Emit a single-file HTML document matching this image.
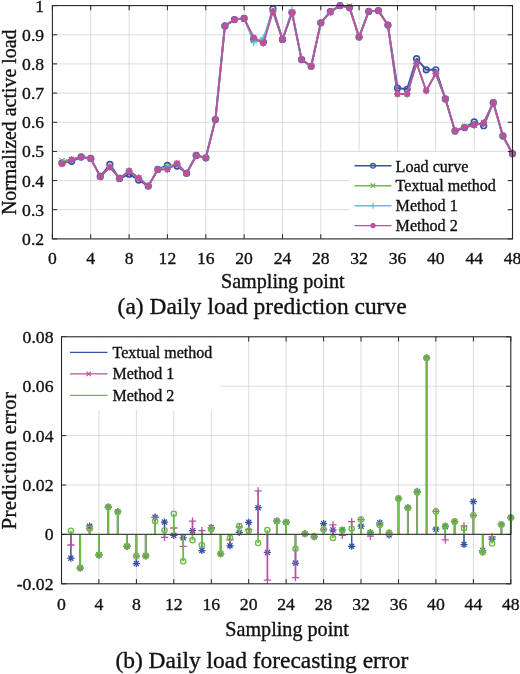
<!DOCTYPE html>
<html lang="en"><head><meta charset="utf-8"><title>Daily load prediction</title>
<style>html,body{margin:0;padding:0;background:#fff}svg{display:block}text{stroke:#111;stroke-width:.35px;paint-order:stroke fill}</style></head>
<body>
<svg width="520" height="674" viewBox="0 0 520 674" font-family="'Liberation Serif', 'Times New Roman', serif" fill="#111">
<rect width="520" height="674" fill="#fff"/>
<line x1="90.7" y1="5.6" x2="90.7" y2="238.9" stroke="#cdcdcd" stroke-width="0.7"/>
<line x1="129.1" y1="5.6" x2="129.1" y2="238.9" stroke="#cdcdcd" stroke-width="0.7"/>
<line x1="167.4" y1="5.6" x2="167.4" y2="238.9" stroke="#cdcdcd" stroke-width="0.7"/>
<line x1="205.8" y1="5.6" x2="205.8" y2="238.9" stroke="#cdcdcd" stroke-width="0.7"/>
<line x1="244.1" y1="5.6" x2="244.1" y2="238.9" stroke="#cdcdcd" stroke-width="0.7"/>
<line x1="282.5" y1="5.6" x2="282.5" y2="238.9" stroke="#cdcdcd" stroke-width="0.7"/>
<line x1="320.8" y1="5.6" x2="320.8" y2="238.9" stroke="#cdcdcd" stroke-width="0.7"/>
<line x1="359.1" y1="5.6" x2="359.1" y2="238.9" stroke="#cdcdcd" stroke-width="0.7"/>
<line x1="397.5" y1="5.6" x2="397.5" y2="238.9" stroke="#cdcdcd" stroke-width="0.7"/>
<line x1="435.8" y1="5.6" x2="435.8" y2="238.9" stroke="#cdcdcd" stroke-width="0.7"/>
<line x1="474.2" y1="5.6" x2="474.2" y2="238.9" stroke="#cdcdcd" stroke-width="0.7"/>
<line x1="52.4" y1="209.7" x2="512.5" y2="209.7" stroke="#cdcdcd" stroke-width="0.7"/>
<line x1="52.4" y1="180.6" x2="512.5" y2="180.6" stroke="#cdcdcd" stroke-width="0.7"/>
<line x1="52.4" y1="151.4" x2="512.5" y2="151.4" stroke="#cdcdcd" stroke-width="0.7"/>
<line x1="52.4" y1="122.3" x2="512.5" y2="122.3" stroke="#cdcdcd" stroke-width="0.7"/>
<line x1="52.4" y1="93.1" x2="512.5" y2="93.1" stroke="#cdcdcd" stroke-width="0.7"/>
<line x1="52.4" y1="63.9" x2="512.5" y2="63.9" stroke="#cdcdcd" stroke-width="0.7"/>
<line x1="52.4" y1="34.8" x2="512.5" y2="34.8" stroke="#cdcdcd" stroke-width="0.7"/>
<polyline points="62.0,163.1 71.6,161.3 81.2,157.0 90.7,158.4 100.3,176.5 109.9,164.5 119.5,178.5 129.1,174.2 138.7,180.0 148.3,186.1 157.8,169.5 167.4,165.4 177.0,166.0 186.6,173.3 196.2,155.5 205.8,157.8 215.4,119.6 224.9,25.9 234.5,19.6 244.1,18.4 253.7,39.1 263.3,42.1 272.9,8.8 282.5,39.4 292.0,12.6 301.6,59.6 311.2,66.3 320.8,22.8 330.4,11.7 340.0,5.6 349.5,7.6 359.1,37.1 368.7,11.4 378.3,10.6 387.9,25.1 397.5,88.1 407.1,89.3 416.6,58.7 426.2,69.8 435.8,69.8 445.4,98.9 455.0,131.0 464.6,127.5 474.2,122.0 483.7,125.7 493.3,102.7 502.9,136.0 512.5,153.7" fill="none" stroke="#3953A4" stroke-width="2.0" stroke-linejoin="round"/>
<circle cx="62.0" cy="163.1" r="2.8" fill="none" stroke="#3953A4" stroke-width="1.7"/>
<circle cx="71.6" cy="161.3" r="2.8" fill="none" stroke="#3953A4" stroke-width="1.7"/>
<circle cx="81.2" cy="157.0" r="2.8" fill="none" stroke="#3953A4" stroke-width="1.7"/>
<circle cx="90.7" cy="158.4" r="2.8" fill="none" stroke="#3953A4" stroke-width="1.7"/>
<circle cx="100.3" cy="176.5" r="2.8" fill="none" stroke="#3953A4" stroke-width="1.7"/>
<circle cx="109.9" cy="164.5" r="2.8" fill="none" stroke="#3953A4" stroke-width="1.7"/>
<circle cx="119.5" cy="178.5" r="2.8" fill="none" stroke="#3953A4" stroke-width="1.7"/>
<circle cx="129.1" cy="174.2" r="2.8" fill="none" stroke="#3953A4" stroke-width="1.7"/>
<circle cx="138.7" cy="180.0" r="2.8" fill="none" stroke="#3953A4" stroke-width="1.7"/>
<circle cx="148.3" cy="186.1" r="2.8" fill="none" stroke="#3953A4" stroke-width="1.7"/>
<circle cx="157.8" cy="169.5" r="2.8" fill="none" stroke="#3953A4" stroke-width="1.7"/>
<circle cx="167.4" cy="165.4" r="2.8" fill="none" stroke="#3953A4" stroke-width="1.7"/>
<circle cx="177.0" cy="166.0" r="2.8" fill="none" stroke="#3953A4" stroke-width="1.7"/>
<circle cx="186.6" cy="173.3" r="2.8" fill="none" stroke="#3953A4" stroke-width="1.7"/>
<circle cx="196.2" cy="155.5" r="2.8" fill="none" stroke="#3953A4" stroke-width="1.7"/>
<circle cx="205.8" cy="157.8" r="2.8" fill="none" stroke="#3953A4" stroke-width="1.7"/>
<circle cx="215.4" cy="119.6" r="2.8" fill="none" stroke="#3953A4" stroke-width="1.7"/>
<circle cx="224.9" cy="25.9" r="2.8" fill="none" stroke="#3953A4" stroke-width="1.7"/>
<circle cx="234.5" cy="19.6" r="2.8" fill="none" stroke="#3953A4" stroke-width="1.7"/>
<circle cx="244.1" cy="18.4" r="2.8" fill="none" stroke="#3953A4" stroke-width="1.7"/>
<circle cx="253.7" cy="39.1" r="2.8" fill="none" stroke="#3953A4" stroke-width="1.7"/>
<circle cx="263.3" cy="42.1" r="2.8" fill="none" stroke="#3953A4" stroke-width="1.7"/>
<circle cx="272.9" cy="8.8" r="2.8" fill="none" stroke="#3953A4" stroke-width="1.7"/>
<circle cx="282.5" cy="39.4" r="2.8" fill="none" stroke="#3953A4" stroke-width="1.7"/>
<circle cx="292.0" cy="12.6" r="2.8" fill="none" stroke="#3953A4" stroke-width="1.7"/>
<circle cx="301.6" cy="59.6" r="2.8" fill="none" stroke="#3953A4" stroke-width="1.7"/>
<circle cx="311.2" cy="66.3" r="2.8" fill="none" stroke="#3953A4" stroke-width="1.7"/>
<circle cx="320.8" cy="22.8" r="2.8" fill="none" stroke="#3953A4" stroke-width="1.7"/>
<circle cx="330.4" cy="11.7" r="2.8" fill="none" stroke="#3953A4" stroke-width="1.7"/>
<circle cx="340.0" cy="5.6" r="2.8" fill="none" stroke="#3953A4" stroke-width="1.7"/>
<circle cx="349.5" cy="7.6" r="2.8" fill="none" stroke="#3953A4" stroke-width="1.7"/>
<circle cx="359.1" cy="37.1" r="2.8" fill="none" stroke="#3953A4" stroke-width="1.7"/>
<circle cx="368.7" cy="11.4" r="2.8" fill="none" stroke="#3953A4" stroke-width="1.7"/>
<circle cx="378.3" cy="10.6" r="2.8" fill="none" stroke="#3953A4" stroke-width="1.7"/>
<circle cx="387.9" cy="25.1" r="2.8" fill="none" stroke="#3953A4" stroke-width="1.7"/>
<circle cx="397.5" cy="88.1" r="2.8" fill="none" stroke="#3953A4" stroke-width="1.7"/>
<circle cx="407.1" cy="89.3" r="2.8" fill="none" stroke="#3953A4" stroke-width="1.7"/>
<circle cx="416.6" cy="58.7" r="2.8" fill="none" stroke="#3953A4" stroke-width="1.7"/>
<circle cx="426.2" cy="69.8" r="2.8" fill="none" stroke="#3953A4" stroke-width="1.7"/>
<circle cx="435.8" cy="69.8" r="2.8" fill="none" stroke="#3953A4" stroke-width="1.7"/>
<circle cx="445.4" cy="98.9" r="2.8" fill="none" stroke="#3953A4" stroke-width="1.7"/>
<circle cx="455.0" cy="131.0" r="2.8" fill="none" stroke="#3953A4" stroke-width="1.7"/>
<circle cx="464.6" cy="127.5" r="2.8" fill="none" stroke="#3953A4" stroke-width="1.7"/>
<circle cx="474.2" cy="122.0" r="2.8" fill="none" stroke="#3953A4" stroke-width="1.7"/>
<circle cx="483.7" cy="125.7" r="2.8" fill="none" stroke="#3953A4" stroke-width="1.7"/>
<circle cx="493.3" cy="102.7" r="2.8" fill="none" stroke="#3953A4" stroke-width="1.7"/>
<circle cx="502.9" cy="136.0" r="2.8" fill="none" stroke="#3953A4" stroke-width="1.7"/>
<circle cx="512.5" cy="153.7" r="2.8" fill="none" stroke="#3953A4" stroke-width="1.7"/>
<polyline points="62.0,160.7 71.6,159.6 81.2,157.0 90.7,158.4 100.3,176.5 109.9,167.2 119.5,178.5 129.1,171.0 138.7,178.0 148.3,186.1 157.8,169.5 167.4,166.9 177.0,163.4 186.6,173.3 196.2,155.5 205.8,157.8 215.4,119.6 224.9,25.9 234.5,19.6 244.1,18.4 253.7,38.8 263.3,41.2 272.9,11.4 282.5,39.4 292.0,12.6 301.6,59.6 311.2,66.3 320.8,22.8 330.4,11.7 340.0,5.6 349.5,6.2 359.1,37.1 368.7,11.4 378.3,10.6 387.9,25.1 397.5,94.0 407.1,94.0 416.6,63.3 426.2,90.8 435.8,73.5 445.4,98.9 455.0,131.0 464.6,126.3 474.2,125.2 483.7,122.8 493.3,102.7 502.9,136.0 512.5,153.7" fill="none" stroke="#6ABD45" stroke-width="1.6" stroke-linejoin="round"/>
<path d="M59.4 158.1L64.6 163.3M59.4 163.3L64.6 158.1" stroke="#6ABD45" stroke-width="1.3" fill="none"/>
<path d="M69.0 157.0L74.2 162.2M69.0 162.2L74.2 157.0" stroke="#6ABD45" stroke-width="1.3" fill="none"/>
<path d="M78.6 154.4L83.8 159.6M78.6 159.6L83.8 154.4" stroke="#6ABD45" stroke-width="1.3" fill="none"/>
<path d="M88.1 155.8L93.3 161.0M88.1 161.0L93.3 155.8" stroke="#6ABD45" stroke-width="1.3" fill="none"/>
<path d="M97.7 173.9L102.9 179.1M97.7 179.1L102.9 173.9" stroke="#6ABD45" stroke-width="1.3" fill="none"/>
<path d="M107.3 164.6L112.5 169.8M107.3 169.8L112.5 164.6" stroke="#6ABD45" stroke-width="1.3" fill="none"/>
<path d="M116.9 175.9L122.1 181.1M116.9 181.1L122.1 175.9" stroke="#6ABD45" stroke-width="1.3" fill="none"/>
<path d="M126.5 168.4L131.7 173.6M126.5 173.6L131.7 168.4" stroke="#6ABD45" stroke-width="1.3" fill="none"/>
<path d="M136.1 175.4L141.3 180.6M136.1 180.6L141.3 175.4" stroke="#6ABD45" stroke-width="1.3" fill="none"/>
<path d="M145.7 183.5L150.9 188.7M145.7 188.7L150.9 183.5" stroke="#6ABD45" stroke-width="1.3" fill="none"/>
<path d="M155.2 166.9L160.4 172.1M155.2 172.1L160.4 166.9" stroke="#6ABD45" stroke-width="1.3" fill="none"/>
<path d="M164.8 164.3L170.0 169.5M164.8 169.5L170.0 164.3" stroke="#6ABD45" stroke-width="1.3" fill="none"/>
<path d="M174.4 160.8L179.6 166.0M174.4 166.0L179.6 160.8" stroke="#6ABD45" stroke-width="1.3" fill="none"/>
<path d="M184.0 170.7L189.2 175.9M184.0 175.9L189.2 170.7" stroke="#6ABD45" stroke-width="1.3" fill="none"/>
<path d="M193.6 152.9L198.8 158.1M193.6 158.1L198.8 152.9" stroke="#6ABD45" stroke-width="1.3" fill="none"/>
<path d="M203.2 155.2L208.4 160.4M203.2 160.4L208.4 155.2" stroke="#6ABD45" stroke-width="1.3" fill="none"/>
<path d="M212.8 117.0L218.0 122.2M212.8 122.2L218.0 117.0" stroke="#6ABD45" stroke-width="1.3" fill="none"/>
<path d="M222.3 23.3L227.5 28.5M222.3 28.5L227.5 23.3" stroke="#6ABD45" stroke-width="1.3" fill="none"/>
<path d="M231.9 17.0L237.1 22.2M231.9 22.2L237.1 17.0" stroke="#6ABD45" stroke-width="1.3" fill="none"/>
<path d="M241.5 15.8L246.7 21.0M241.5 21.0L246.7 15.8" stroke="#6ABD45" stroke-width="1.3" fill="none"/>
<path d="M251.1 36.2L256.3 41.4M251.1 41.4L256.3 36.2" stroke="#6ABD45" stroke-width="1.3" fill="none"/>
<path d="M260.7 38.6L265.9 43.8M260.7 43.8L265.9 38.6" stroke="#6ABD45" stroke-width="1.3" fill="none"/>
<path d="M270.3 8.8L275.5 14.0M270.3 14.0L275.5 8.8" stroke="#6ABD45" stroke-width="1.3" fill="none"/>
<path d="M279.9 36.8L285.1 42.0M279.9 42.0L285.1 36.8" stroke="#6ABD45" stroke-width="1.3" fill="none"/>
<path d="M289.4 10.0L294.6 15.2M289.4 15.2L294.6 10.0" stroke="#6ABD45" stroke-width="1.3" fill="none"/>
<path d="M299.0 57.0L304.2 62.2M299.0 62.2L304.2 57.0" stroke="#6ABD45" stroke-width="1.3" fill="none"/>
<path d="M308.6 63.7L313.8 68.9M308.6 68.9L313.8 63.7" stroke="#6ABD45" stroke-width="1.3" fill="none"/>
<path d="M318.2 20.2L323.4 25.4M318.2 25.4L323.4 20.2" stroke="#6ABD45" stroke-width="1.3" fill="none"/>
<path d="M327.8 9.1L333.0 14.3M327.8 14.3L333.0 9.1" stroke="#6ABD45" stroke-width="1.3" fill="none"/>
<path d="M337.4 3.0L342.6 8.2M337.4 8.2L342.6 3.0" stroke="#6ABD45" stroke-width="1.3" fill="none"/>
<path d="M346.9 3.6L352.1 8.8M346.9 8.8L352.1 3.6" stroke="#6ABD45" stroke-width="1.3" fill="none"/>
<path d="M356.5 34.5L361.7 39.7M356.5 39.7L361.7 34.5" stroke="#6ABD45" stroke-width="1.3" fill="none"/>
<path d="M366.1 8.8L371.3 14.0M366.1 14.0L371.3 8.8" stroke="#6ABD45" stroke-width="1.3" fill="none"/>
<path d="M375.7 8.0L380.9 13.2M375.7 13.2L380.9 8.0" stroke="#6ABD45" stroke-width="1.3" fill="none"/>
<path d="M385.3 22.5L390.5 27.7M385.3 27.7L390.5 22.5" stroke="#6ABD45" stroke-width="1.3" fill="none"/>
<path d="M394.9 91.4L400.1 96.6M394.9 96.6L400.1 91.4" stroke="#6ABD45" stroke-width="1.3" fill="none"/>
<path d="M404.5 91.4L409.7 96.6M404.5 96.6L409.7 91.4" stroke="#6ABD45" stroke-width="1.3" fill="none"/>
<path d="M414.0 60.7L419.2 65.9M414.0 65.9L419.2 60.7" stroke="#6ABD45" stroke-width="1.3" fill="none"/>
<path d="M423.6 88.2L428.8 93.4M423.6 93.4L428.8 88.2" stroke="#6ABD45" stroke-width="1.3" fill="none"/>
<path d="M433.2 70.9L438.4 76.1M433.2 76.1L438.4 70.9" stroke="#6ABD45" stroke-width="1.3" fill="none"/>
<path d="M442.8 96.3L448.0 101.5M442.8 101.5L448.0 96.3" stroke="#6ABD45" stroke-width="1.3" fill="none"/>
<path d="M452.4 128.4L457.6 133.6M452.4 133.6L457.6 128.4" stroke="#6ABD45" stroke-width="1.3" fill="none"/>
<path d="M462.0 123.7L467.2 128.9M462.0 128.9L467.2 123.7" stroke="#6ABD45" stroke-width="1.3" fill="none"/>
<path d="M471.6 122.6L476.8 127.8M471.6 127.8L476.8 122.6" stroke="#6ABD45" stroke-width="1.3" fill="none"/>
<path d="M481.1 120.2L486.3 125.4M481.1 125.4L486.3 120.2" stroke="#6ABD45" stroke-width="1.3" fill="none"/>
<path d="M490.7 100.1L495.9 105.3M490.7 105.3L495.9 100.1" stroke="#6ABD45" stroke-width="1.3" fill="none"/>
<path d="M500.3 133.4L505.5 138.6M500.3 138.6L505.5 133.4" stroke="#6ABD45" stroke-width="1.3" fill="none"/>
<path d="M509.9 151.1L515.1 156.3M509.9 156.3L515.1 151.1" stroke="#6ABD45" stroke-width="1.3" fill="none"/>
<polyline points="62.0,163.7 71.6,159.6 81.2,157.0 90.7,158.4 100.3,176.5 109.9,167.2 119.5,178.5 129.1,171.0 138.7,178.0 148.3,186.1 157.8,169.5 167.4,167.5 177.0,164.5 186.6,173.3 196.2,155.5 205.8,157.8 215.4,119.6 224.9,25.9 234.5,19.6 244.1,18.4 253.7,42.6 263.3,37.7 272.9,11.4 282.5,39.4 292.0,10.0 301.6,59.6 311.2,66.3 320.8,22.8 330.4,12.9 340.0,5.6 349.5,7.6 359.1,37.1 368.7,11.4 378.3,10.6 387.9,25.1 397.5,94.0 407.1,94.0 416.6,63.3 426.2,90.8 435.8,73.5 445.4,98.9 455.0,131.0 464.6,127.5 474.2,125.2 483.7,122.8 493.3,102.7 502.9,136.0 512.5,153.7" fill="none" stroke="#5BC5D5" stroke-width="1.6" stroke-linejoin="round"/>
<path d="M58.6 163.7L65.4 163.7M62.0 160.3L62.0 167.1" stroke="#5BC5D5" stroke-width="1.3" fill="none"/>
<path d="M68.2 159.6L75.0 159.6M71.6 156.2L71.6 163.0" stroke="#5BC5D5" stroke-width="1.3" fill="none"/>
<path d="M77.8 157.0L84.6 157.0M81.2 153.6L81.2 160.4" stroke="#5BC5D5" stroke-width="1.3" fill="none"/>
<path d="M87.3 158.4L94.1 158.4M90.7 155.0L90.7 161.8" stroke="#5BC5D5" stroke-width="1.3" fill="none"/>
<path d="M96.9 176.5L103.7 176.5M100.3 173.1L100.3 179.9" stroke="#5BC5D5" stroke-width="1.3" fill="none"/>
<path d="M106.5 167.2L113.3 167.2M109.9 163.8L109.9 170.6" stroke="#5BC5D5" stroke-width="1.3" fill="none"/>
<path d="M116.1 178.5L122.9 178.5M119.5 175.1L119.5 181.9" stroke="#5BC5D5" stroke-width="1.3" fill="none"/>
<path d="M125.7 171.0L132.5 171.0M129.1 167.6L129.1 174.4" stroke="#5BC5D5" stroke-width="1.3" fill="none"/>
<path d="M135.3 178.0L142.1 178.0M138.7 174.6L138.7 181.4" stroke="#5BC5D5" stroke-width="1.3" fill="none"/>
<path d="M144.9 186.1L151.7 186.1M148.3 182.7L148.3 189.5" stroke="#5BC5D5" stroke-width="1.3" fill="none"/>
<path d="M154.4 169.5L161.2 169.5M157.8 166.1L157.8 172.9" stroke="#5BC5D5" stroke-width="1.3" fill="none"/>
<path d="M164.0 167.5L170.8 167.5M167.4 164.1L167.4 170.9" stroke="#5BC5D5" stroke-width="1.3" fill="none"/>
<path d="M173.6 164.5L180.4 164.5M177.0 161.1L177.0 167.9" stroke="#5BC5D5" stroke-width="1.3" fill="none"/>
<path d="M183.2 173.3L190.0 173.3M186.6 169.9L186.6 176.7" stroke="#5BC5D5" stroke-width="1.3" fill="none"/>
<path d="M192.8 155.5L199.6 155.5M196.2 152.1L196.2 158.9" stroke="#5BC5D5" stroke-width="1.3" fill="none"/>
<path d="M202.4 157.8L209.2 157.8M205.8 154.4L205.8 161.2" stroke="#5BC5D5" stroke-width="1.3" fill="none"/>
<path d="M212.0 119.6L218.8 119.6M215.4 116.2L215.4 123.0" stroke="#5BC5D5" stroke-width="1.3" fill="none"/>
<path d="M221.5 25.9L228.3 25.9M224.9 22.5L224.9 29.3" stroke="#5BC5D5" stroke-width="1.3" fill="none"/>
<path d="M231.1 19.6L237.9 19.6M234.5 16.2L234.5 23.0" stroke="#5BC5D5" stroke-width="1.3" fill="none"/>
<path d="M240.7 18.4L247.5 18.4M244.1 15.0L244.1 21.8" stroke="#5BC5D5" stroke-width="1.3" fill="none"/>
<path d="M250.3 42.6L257.1 42.6M253.7 39.2L253.7 46.0" stroke="#5BC5D5" stroke-width="1.3" fill="none"/>
<path d="M259.9 37.7L266.7 37.7M263.3 34.3L263.3 41.1" stroke="#5BC5D5" stroke-width="1.3" fill="none"/>
<path d="M269.5 11.4L276.3 11.4M272.9 8.0L272.9 14.8" stroke="#5BC5D5" stroke-width="1.3" fill="none"/>
<path d="M279.1 39.4L285.9 39.4M282.5 36.0L282.5 42.8" stroke="#5BC5D5" stroke-width="1.3" fill="none"/>
<path d="M288.6 10.0L295.4 10.0M292.0 6.6L292.0 13.4" stroke="#5BC5D5" stroke-width="1.3" fill="none"/>
<path d="M298.2 59.6L305.0 59.6M301.6 56.2L301.6 63.0" stroke="#5BC5D5" stroke-width="1.3" fill="none"/>
<path d="M307.8 66.3L314.6 66.3M311.2 62.9L311.2 69.7" stroke="#5BC5D5" stroke-width="1.3" fill="none"/>
<path d="M317.4 22.8L324.2 22.8M320.8 19.4L320.8 26.2" stroke="#5BC5D5" stroke-width="1.3" fill="none"/>
<path d="M327.0 12.9L333.8 12.9M330.4 9.5L330.4 16.3" stroke="#5BC5D5" stroke-width="1.3" fill="none"/>
<path d="M336.6 5.6L343.4 5.6M340.0 2.2L340.0 9.0" stroke="#5BC5D5" stroke-width="1.3" fill="none"/>
<path d="M346.1 7.6L352.9 7.6M349.5 4.2L349.5 11.0" stroke="#5BC5D5" stroke-width="1.3" fill="none"/>
<path d="M355.7 37.1L362.5 37.1M359.1 33.7L359.1 40.5" stroke="#5BC5D5" stroke-width="1.3" fill="none"/>
<path d="M365.3 11.4L372.1 11.4M368.7 8.0L368.7 14.8" stroke="#5BC5D5" stroke-width="1.3" fill="none"/>
<path d="M374.9 10.6L381.7 10.6M378.3 7.2L378.3 14.0" stroke="#5BC5D5" stroke-width="1.3" fill="none"/>
<path d="M384.5 25.1L391.3 25.1M387.9 21.7L387.9 28.5" stroke="#5BC5D5" stroke-width="1.3" fill="none"/>
<path d="M394.1 94.0L400.9 94.0M397.5 90.6L397.5 97.4" stroke="#5BC5D5" stroke-width="1.3" fill="none"/>
<path d="M403.7 94.0L410.5 94.0M407.1 90.6L407.1 97.4" stroke="#5BC5D5" stroke-width="1.3" fill="none"/>
<path d="M413.2 63.3L420.0 63.3M416.6 59.9L416.6 66.7" stroke="#5BC5D5" stroke-width="1.3" fill="none"/>
<path d="M422.8 90.8L429.6 90.8M426.2 87.4L426.2 94.2" stroke="#5BC5D5" stroke-width="1.3" fill="none"/>
<path d="M432.4 73.5L439.2 73.5M435.8 70.1L435.8 76.9" stroke="#5BC5D5" stroke-width="1.3" fill="none"/>
<path d="M442.0 98.9L448.8 98.9M445.4 95.5L445.4 102.3" stroke="#5BC5D5" stroke-width="1.3" fill="none"/>
<path d="M451.6 131.0L458.4 131.0M455.0 127.6L455.0 134.4" stroke="#5BC5D5" stroke-width="1.3" fill="none"/>
<path d="M461.2 127.5L468.0 127.5M464.6 124.1L464.6 130.9" stroke="#5BC5D5" stroke-width="1.3" fill="none"/>
<path d="M470.8 125.2L477.6 125.2M474.2 121.8L474.2 128.6" stroke="#5BC5D5" stroke-width="1.3" fill="none"/>
<path d="M480.3 122.8L487.1 122.8M483.7 119.4L483.7 126.2" stroke="#5BC5D5" stroke-width="1.3" fill="none"/>
<path d="M489.9 102.7L496.7 102.7M493.3 99.3L493.3 106.1" stroke="#5BC5D5" stroke-width="1.3" fill="none"/>
<path d="M499.5 136.0L506.3 136.0M502.9 132.6L502.9 139.4" stroke="#5BC5D5" stroke-width="1.3" fill="none"/>
<path d="M509.1 153.7L515.9 153.7M512.5 150.3L512.5 157.1" stroke="#5BC5D5" stroke-width="1.3" fill="none"/>
<polyline points="62.0,163.7 71.6,159.6 81.2,157.0 90.7,158.4 100.3,176.5 109.9,167.2 119.5,178.5 129.1,171.0 138.7,178.0 148.3,186.1 157.8,169.5 167.4,169.5 177.0,163.4 186.6,173.3 196.2,155.5 205.8,157.8 215.4,119.6 224.9,25.9 234.5,19.6 244.1,18.4 253.7,37.7 263.3,43.2 272.9,11.4 282.5,39.4 292.0,12.6 301.6,59.6 311.2,66.3 320.8,22.8 330.4,11.7 340.0,5.6 349.5,7.6 359.1,37.1 368.7,11.4 378.3,10.6 387.9,25.1 397.5,94.0 407.1,94.0 416.6,63.3 426.2,90.8 435.8,73.5 445.4,98.9 455.0,131.0 464.6,127.5 474.2,125.2 483.7,122.8 493.3,102.7 502.9,136.0 512.5,153.7" fill="none" stroke="#B9529F" stroke-width="1.9" stroke-linejoin="round"/>
<circle cx="62.0" cy="163.7" r="2.5" fill="#B9529F" stroke="#B9529F" stroke-width="1.0"/>
<path d="M58.5 163.7L65.5 163.7M62.0 160.2L62.0 167.2M59.5 161.2L64.5 166.1M59.5 166.1L64.5 161.2" stroke="#B9529F" stroke-width="1.1" fill="none"/>
<circle cx="71.6" cy="159.6" r="2.5" fill="#B9529F" stroke="#B9529F" stroke-width="1.0"/>
<path d="M68.1 159.6L75.1 159.6M71.6 156.1L71.6 163.1M69.1 157.1L74.0 162.1M69.1 162.1L74.0 157.1" stroke="#B9529F" stroke-width="1.1" fill="none"/>
<circle cx="81.2" cy="157.0" r="2.5" fill="#B9529F" stroke="#B9529F" stroke-width="1.0"/>
<path d="M77.7 157.0L84.7 157.0M81.2 153.5L81.2 160.5M78.7 154.5L83.6 159.4M78.7 159.4L83.6 154.5" stroke="#B9529F" stroke-width="1.1" fill="none"/>
<circle cx="90.7" cy="158.4" r="2.5" fill="#B9529F" stroke="#B9529F" stroke-width="1.0"/>
<path d="M87.2 158.4L94.2 158.4M90.7 154.9L90.7 161.9M88.3 155.9L93.2 160.9M88.3 160.9L93.2 155.9" stroke="#B9529F" stroke-width="1.1" fill="none"/>
<circle cx="100.3" cy="176.5" r="2.5" fill="#B9529F" stroke="#B9529F" stroke-width="1.0"/>
<path d="M96.8 176.5L103.8 176.5M100.3 173.0L100.3 180.0M97.9 174.0L102.8 179.0M97.9 179.0L102.8 174.0" stroke="#B9529F" stroke-width="1.1" fill="none"/>
<circle cx="109.9" cy="167.2" r="2.5" fill="#B9529F" stroke="#B9529F" stroke-width="1.0"/>
<path d="M106.4 167.2L113.4 167.2M109.9 163.7L109.9 170.7M107.4 164.7L112.4 169.6M107.4 169.6L112.4 164.7" stroke="#B9529F" stroke-width="1.1" fill="none"/>
<circle cx="119.5" cy="178.5" r="2.5" fill="#B9529F" stroke="#B9529F" stroke-width="1.0"/>
<path d="M116.0 178.5L123.0 178.5M119.5 175.0L119.5 182.0M117.0 176.1L122.0 181.0M117.0 181.0L122.0 176.1" stroke="#B9529F" stroke-width="1.1" fill="none"/>
<circle cx="129.1" cy="171.0" r="2.5" fill="#B9529F" stroke="#B9529F" stroke-width="1.0"/>
<path d="M125.6 171.0L132.6 171.0M129.1 167.5L129.1 174.5M126.6 168.5L131.6 173.4M126.6 173.4L131.6 168.5" stroke="#B9529F" stroke-width="1.1" fill="none"/>
<circle cx="138.7" cy="178.0" r="2.5" fill="#B9529F" stroke="#B9529F" stroke-width="1.0"/>
<path d="M135.2 178.0L142.2 178.0M138.7 174.5L138.7 181.5M136.2 175.5L141.1 180.4M136.2 180.4L141.1 175.5" stroke="#B9529F" stroke-width="1.1" fill="none"/>
<circle cx="148.3" cy="186.1" r="2.5" fill="#B9529F" stroke="#B9529F" stroke-width="1.0"/>
<path d="M144.8 186.1L151.8 186.1M148.3 182.6L148.3 189.6M145.8 183.6L150.7 188.6M145.8 188.6L150.7 183.6" stroke="#B9529F" stroke-width="1.1" fill="none"/>
<circle cx="157.8" cy="169.5" r="2.5" fill="#B9529F" stroke="#B9529F" stroke-width="1.0"/>
<path d="M154.3 169.5L161.3 169.5M157.8 166.0L157.8 173.0M155.4 167.0L160.3 172.0M155.4 172.0L160.3 167.0" stroke="#B9529F" stroke-width="1.1" fill="none"/>
<circle cx="167.4" cy="169.5" r="2.5" fill="#B9529F" stroke="#B9529F" stroke-width="1.0"/>
<path d="M163.9 169.5L170.9 169.5M167.4 166.0L167.4 173.0M165.0 167.0L169.9 172.0M165.0 172.0L169.9 167.0" stroke="#B9529F" stroke-width="1.1" fill="none"/>
<circle cx="177.0" cy="163.4" r="2.5" fill="#B9529F" stroke="#B9529F" stroke-width="1.0"/>
<path d="M173.5 163.4L180.5 163.4M177.0 159.9L177.0 166.9M174.5 160.9L179.5 165.8M174.5 165.8L179.5 160.9" stroke="#B9529F" stroke-width="1.1" fill="none"/>
<circle cx="186.6" cy="173.3" r="2.5" fill="#B9529F" stroke="#B9529F" stroke-width="1.0"/>
<path d="M183.1 173.3L190.1 173.3M186.6 169.8L186.6 176.8M184.1 170.8L189.1 175.8M184.1 175.8L189.1 170.8" stroke="#B9529F" stroke-width="1.1" fill="none"/>
<circle cx="196.2" cy="155.5" r="2.5" fill="#B9529F" stroke="#B9529F" stroke-width="1.0"/>
<path d="M192.7 155.5L199.7 155.5M196.2 152.0L196.2 159.0M193.7 153.0L198.7 158.0M193.7 158.0L198.7 153.0" stroke="#B9529F" stroke-width="1.1" fill="none"/>
<circle cx="205.8" cy="157.8" r="2.5" fill="#B9529F" stroke="#B9529F" stroke-width="1.0"/>
<path d="M202.3 157.8L209.3 157.8M205.8 154.3L205.8 161.3M203.3 155.4L208.2 160.3M203.3 160.3L208.2 155.4" stroke="#B9529F" stroke-width="1.1" fill="none"/>
<circle cx="215.4" cy="119.6" r="2.5" fill="#B9529F" stroke="#B9529F" stroke-width="1.0"/>
<path d="M211.9 119.6L218.9 119.6M215.4 116.1L215.4 123.1M212.9 117.2L217.8 122.1M212.9 122.1L217.8 117.2" stroke="#B9529F" stroke-width="1.1" fill="none"/>
<circle cx="224.9" cy="25.9" r="2.5" fill="#B9529F" stroke="#B9529F" stroke-width="1.0"/>
<path d="M221.4 25.9L228.4 25.9M224.9 22.4L224.9 29.4M222.5 23.4L227.4 28.3M222.5 28.3L227.4 23.4" stroke="#B9529F" stroke-width="1.1" fill="none"/>
<circle cx="234.5" cy="19.6" r="2.5" fill="#B9529F" stroke="#B9529F" stroke-width="1.0"/>
<path d="M231.0 19.6L238.0 19.6M234.5 16.1L234.5 23.1M232.0 17.1L237.0 22.1M232.0 22.1L237.0 17.1" stroke="#B9529F" stroke-width="1.1" fill="none"/>
<circle cx="244.1" cy="18.4" r="2.5" fill="#B9529F" stroke="#B9529F" stroke-width="1.0"/>
<path d="M240.6 18.4L247.6 18.4M244.1 14.9L244.1 21.9M241.6 16.0L246.6 20.9M241.6 20.9L246.6 16.0" stroke="#B9529F" stroke-width="1.1" fill="none"/>
<circle cx="253.7" cy="37.7" r="2.5" fill="#B9529F" stroke="#B9529F" stroke-width="1.0"/>
<path d="M250.2 37.7L257.2 37.7M253.7 34.2L253.7 41.2M251.2 35.2L256.2 40.2M251.2 40.2L256.2 35.2" stroke="#B9529F" stroke-width="1.1" fill="none"/>
<circle cx="263.3" cy="43.2" r="2.5" fill="#B9529F" stroke="#B9529F" stroke-width="1.0"/>
<path d="M259.8 43.2L266.8 43.2M263.3 39.7L263.3 46.7M260.8 40.7L265.8 45.7M260.8 45.7L265.8 40.7" stroke="#B9529F" stroke-width="1.1" fill="none"/>
<circle cx="272.9" cy="11.4" r="2.5" fill="#B9529F" stroke="#B9529F" stroke-width="1.0"/>
<path d="M269.4 11.4L276.4 11.4M272.9 7.9L272.9 14.9M270.4 9.0L275.3 13.9M270.4 13.9L275.3 9.0" stroke="#B9529F" stroke-width="1.1" fill="none"/>
<circle cx="282.5" cy="39.4" r="2.5" fill="#B9529F" stroke="#B9529F" stroke-width="1.0"/>
<path d="M279.0 39.4L286.0 39.4M282.5 35.9L282.5 42.9M280.0 37.0L284.9 41.9M280.0 41.9L284.9 37.0" stroke="#B9529F" stroke-width="1.1" fill="none"/>
<circle cx="292.0" cy="12.6" r="2.5" fill="#B9529F" stroke="#B9529F" stroke-width="1.0"/>
<path d="M288.5 12.6L295.5 12.6M292.0 9.1L292.0 16.1M289.6 10.1L294.5 15.1M289.6 15.1L294.5 10.1" stroke="#B9529F" stroke-width="1.1" fill="none"/>
<circle cx="301.6" cy="59.6" r="2.5" fill="#B9529F" stroke="#B9529F" stroke-width="1.0"/>
<path d="M298.1 59.6L305.1 59.6M301.6 56.1L301.6 63.1M299.1 57.1L304.1 62.0M299.1 62.0L304.1 57.1" stroke="#B9529F" stroke-width="1.1" fill="none"/>
<circle cx="311.2" cy="66.3" r="2.5" fill="#B9529F" stroke="#B9529F" stroke-width="1.0"/>
<path d="M307.7 66.3L314.7 66.3M311.2 62.8L311.2 69.8M308.7 63.8L313.7 68.7M308.7 68.7L313.7 63.8" stroke="#B9529F" stroke-width="1.1" fill="none"/>
<circle cx="320.8" cy="22.8" r="2.5" fill="#B9529F" stroke="#B9529F" stroke-width="1.0"/>
<path d="M317.3 22.8L324.3 22.8M320.8 19.3L320.8 26.3M318.3 20.3L323.3 25.3M318.3 25.3L323.3 20.3" stroke="#B9529F" stroke-width="1.1" fill="none"/>
<circle cx="330.4" cy="11.7" r="2.5" fill="#B9529F" stroke="#B9529F" stroke-width="1.0"/>
<path d="M326.9 11.7L333.9 11.7M330.4 8.2L330.4 15.2M327.9 9.2L332.9 14.2M327.9 14.2L332.9 9.2" stroke="#B9529F" stroke-width="1.1" fill="none"/>
<circle cx="340.0" cy="5.6" r="2.5" fill="#B9529F" stroke="#B9529F" stroke-width="1.0"/>
<path d="M336.5 5.6L343.5 5.6M340.0 2.1L340.0 9.1M337.5 3.1L342.4 8.1M337.5 8.1L342.4 3.1" stroke="#B9529F" stroke-width="1.1" fill="none"/>
<circle cx="349.5" cy="7.6" r="2.5" fill="#B9529F" stroke="#B9529F" stroke-width="1.0"/>
<path d="M346.0 7.6L353.0 7.6M349.5 4.1L349.5 11.1M347.1 5.2L352.0 10.1M347.1 10.1L352.0 5.2" stroke="#B9529F" stroke-width="1.1" fill="none"/>
<circle cx="359.1" cy="37.1" r="2.5" fill="#B9529F" stroke="#B9529F" stroke-width="1.0"/>
<path d="M355.6 37.1L362.6 37.1M359.1 33.6L359.1 40.6M356.7 34.6L361.6 39.6M356.7 39.6L361.6 34.6" stroke="#B9529F" stroke-width="1.1" fill="none"/>
<circle cx="368.7" cy="11.4" r="2.5" fill="#B9529F" stroke="#B9529F" stroke-width="1.0"/>
<path d="M365.2 11.4L372.2 11.4M368.7 7.9L368.7 14.9M366.2 9.0L371.2 13.9M366.2 13.9L371.2 9.0" stroke="#B9529F" stroke-width="1.1" fill="none"/>
<circle cx="378.3" cy="10.6" r="2.5" fill="#B9529F" stroke="#B9529F" stroke-width="1.0"/>
<path d="M374.8 10.6L381.8 10.6M378.3 7.1L378.3 14.1M375.8 8.1L380.8 13.0M375.8 13.0L380.8 8.1" stroke="#B9529F" stroke-width="1.1" fill="none"/>
<circle cx="387.9" cy="25.1" r="2.5" fill="#B9529F" stroke="#B9529F" stroke-width="1.0"/>
<path d="M384.4 25.1L391.4 25.1M387.9 21.6L387.9 28.6M385.4 22.7L390.4 27.6M385.4 27.6L390.4 22.7" stroke="#B9529F" stroke-width="1.1" fill="none"/>
<circle cx="397.5" cy="94.0" r="2.5" fill="#B9529F" stroke="#B9529F" stroke-width="1.0"/>
<path d="M394.0 94.0L401.0 94.0M397.5 90.5L397.5 97.5M395.0 91.5L399.9 96.4M395.0 96.4L399.9 91.5" stroke="#B9529F" stroke-width="1.1" fill="none"/>
<circle cx="407.1" cy="94.0" r="2.5" fill="#B9529F" stroke="#B9529F" stroke-width="1.0"/>
<path d="M403.6 94.0L410.6 94.0M407.1 90.5L407.1 97.5M404.6 91.5L409.5 96.4M404.6 96.4L409.5 91.5" stroke="#B9529F" stroke-width="1.1" fill="none"/>
<circle cx="416.6" cy="63.3" r="2.5" fill="#B9529F" stroke="#B9529F" stroke-width="1.0"/>
<path d="M413.1 63.3L420.1 63.3M416.6 59.8L416.6 66.8M414.2 60.9L419.1 65.8M414.2 65.8L419.1 60.9" stroke="#B9529F" stroke-width="1.1" fill="none"/>
<circle cx="426.2" cy="90.8" r="2.5" fill="#B9529F" stroke="#B9529F" stroke-width="1.0"/>
<path d="M422.7 90.8L429.7 90.8M426.2 87.3L426.2 94.3M423.8 88.3L428.7 93.2M423.8 93.2L428.7 88.3" stroke="#B9529F" stroke-width="1.1" fill="none"/>
<circle cx="435.8" cy="73.5" r="2.5" fill="#B9529F" stroke="#B9529F" stroke-width="1.0"/>
<path d="M432.3 73.5L439.3 73.5M435.8 70.0L435.8 77.0M433.3 71.1L438.3 76.0M433.3 76.0L438.3 71.1" stroke="#B9529F" stroke-width="1.1" fill="none"/>
<circle cx="445.4" cy="98.9" r="2.5" fill="#B9529F" stroke="#B9529F" stroke-width="1.0"/>
<path d="M441.9 98.9L448.9 98.9M445.4 95.4L445.4 102.4M442.9 96.4L447.9 101.4M442.9 101.4L447.9 96.4" stroke="#B9529F" stroke-width="1.1" fill="none"/>
<circle cx="455.0" cy="131.0" r="2.5" fill="#B9529F" stroke="#B9529F" stroke-width="1.0"/>
<path d="M451.5 131.0L458.5 131.0M455.0 127.5L455.0 134.5M452.5 128.5L457.5 133.5M452.5 133.5L457.5 128.5" stroke="#B9529F" stroke-width="1.1" fill="none"/>
<circle cx="464.6" cy="127.5" r="2.5" fill="#B9529F" stroke="#B9529F" stroke-width="1.0"/>
<path d="M461.1 127.5L468.1 127.5M464.6 124.0L464.6 131.0M462.1 125.0L467.0 130.0M462.1 130.0L467.0 125.0" stroke="#B9529F" stroke-width="1.1" fill="none"/>
<circle cx="474.2" cy="125.2" r="2.5" fill="#B9529F" stroke="#B9529F" stroke-width="1.0"/>
<path d="M470.7 125.2L477.7 125.2M474.2 121.7L474.2 128.7M471.7 122.7L476.6 127.6M471.7 127.6L476.6 122.7" stroke="#B9529F" stroke-width="1.1" fill="none"/>
<circle cx="483.7" cy="122.8" r="2.5" fill="#B9529F" stroke="#B9529F" stroke-width="1.0"/>
<path d="M480.2 122.8L487.2 122.8M483.7 119.3L483.7 126.3M481.3 120.4L486.2 125.3M481.3 125.3L486.2 120.4" stroke="#B9529F" stroke-width="1.1" fill="none"/>
<circle cx="493.3" cy="102.7" r="2.5" fill="#B9529F" stroke="#B9529F" stroke-width="1.0"/>
<path d="M489.8 102.7L496.8 102.7M493.3 99.2L493.3 106.2M490.9 100.2L495.8 105.2M490.9 105.2L495.8 100.2" stroke="#B9529F" stroke-width="1.1" fill="none"/>
<circle cx="502.9" cy="136.0" r="2.5" fill="#B9529F" stroke="#B9529F" stroke-width="1.0"/>
<path d="M499.4 136.0L506.4 136.0M502.9 132.5L502.9 139.5M500.4 133.5L505.4 138.4M500.4 138.4L505.4 133.5" stroke="#B9529F" stroke-width="1.1" fill="none"/>
<circle cx="512.5" cy="153.7" r="2.5" fill="#B9529F" stroke="#B9529F" stroke-width="1.0"/>
<path d="M509.0 153.7L516.0 153.7M512.5 150.2L512.5 157.2M510.0 151.3L515.0 156.2M510.0 156.2L515.0 151.3" stroke="#B9529F" stroke-width="1.1" fill="none"/>
<path d="M52.4 238.9v-4.7M52.4 5.6v4.7" stroke="#262626" stroke-width="1"/>
<text x="52.4" y="263.6" font-size="17.6" text-anchor="middle">0</text>
<path d="M90.7 238.9v-4.7M90.7 5.6v4.7" stroke="#262626" stroke-width="1"/>
<text x="90.7" y="263.6" font-size="17.6" text-anchor="middle">4</text>
<path d="M129.1 238.9v-4.7M129.1 5.6v4.7" stroke="#262626" stroke-width="1"/>
<text x="129.1" y="263.6" font-size="17.6" text-anchor="middle">8</text>
<path d="M167.4 238.9v-4.7M167.4 5.6v4.7" stroke="#262626" stroke-width="1"/>
<text x="167.4" y="263.6" font-size="17.6" text-anchor="middle">12</text>
<path d="M205.8 238.9v-4.7M205.8 5.6v4.7" stroke="#262626" stroke-width="1"/>
<text x="205.8" y="263.6" font-size="17.6" text-anchor="middle">16</text>
<path d="M244.1 238.9v-4.7M244.1 5.6v4.7" stroke="#262626" stroke-width="1"/>
<text x="244.1" y="263.6" font-size="17.6" text-anchor="middle">20</text>
<path d="M282.5 238.9v-4.7M282.5 5.6v4.7" stroke="#262626" stroke-width="1"/>
<text x="282.5" y="263.6" font-size="17.6" text-anchor="middle">24</text>
<path d="M320.8 238.9v-4.7M320.8 5.6v4.7" stroke="#262626" stroke-width="1"/>
<text x="320.8" y="263.6" font-size="17.6" text-anchor="middle">28</text>
<path d="M359.1 238.9v-4.7M359.1 5.6v4.7" stroke="#262626" stroke-width="1"/>
<text x="359.1" y="263.6" font-size="17.6" text-anchor="middle">32</text>
<path d="M397.5 238.9v-4.7M397.5 5.6v4.7" stroke="#262626" stroke-width="1"/>
<text x="397.5" y="263.6" font-size="17.6" text-anchor="middle">36</text>
<path d="M435.8 238.9v-4.7M435.8 5.6v4.7" stroke="#262626" stroke-width="1"/>
<text x="435.8" y="263.6" font-size="17.6" text-anchor="middle">40</text>
<path d="M474.2 238.9v-4.7M474.2 5.6v4.7" stroke="#262626" stroke-width="1"/>
<text x="474.2" y="263.6" font-size="17.6" text-anchor="middle">44</text>
<path d="M512.5 238.9v-4.7M512.5 5.6v4.7" stroke="#262626" stroke-width="1"/>
<text x="512.5" y="263.6" font-size="17.6" text-anchor="middle">48</text>
<path d="M52.4 238.9h4.7M512.5 238.9h-4.7" stroke="#262626" stroke-width="1"/>
<text x="44.1" y="244.8" font-size="17.6" text-anchor="end">0.2</text>
<path d="M52.4 209.7h4.7M512.5 209.7h-4.7" stroke="#262626" stroke-width="1"/>
<text x="44.1" y="215.6" font-size="17.6" text-anchor="end">0.3</text>
<path d="M52.4 180.6h4.7M512.5 180.6h-4.7" stroke="#262626" stroke-width="1"/>
<text x="44.1" y="186.5" font-size="17.6" text-anchor="end">0.4</text>
<path d="M52.4 151.4h4.7M512.5 151.4h-4.7" stroke="#262626" stroke-width="1"/>
<text x="44.1" y="157.3" font-size="17.6" text-anchor="end">0.5</text>
<path d="M52.4 122.3h4.7M512.5 122.3h-4.7" stroke="#262626" stroke-width="1"/>
<text x="44.1" y="128.2" font-size="17.6" text-anchor="end">0.6</text>
<path d="M52.4 93.1h4.7M512.5 93.1h-4.7" stroke="#262626" stroke-width="1"/>
<text x="44.1" y="99.0" font-size="17.6" text-anchor="end">0.7</text>
<path d="M52.4 63.9h4.7M512.5 63.9h-4.7" stroke="#262626" stroke-width="1"/>
<text x="44.1" y="69.8" font-size="17.6" text-anchor="end">0.8</text>
<path d="M52.4 34.8h4.7M512.5 34.8h-4.7" stroke="#262626" stroke-width="1"/>
<text x="44.1" y="40.7" font-size="17.6" text-anchor="end">0.9</text>
<path d="M52.4 5.6h4.7M512.5 5.6h-4.7" stroke="#262626" stroke-width="1"/>
<text x="44.1" y="11.5" font-size="17.6" text-anchor="end">1</text>
<rect x="349.4" y="152.3" width="157.6" height="86.6" fill="#fff"/>
<line x1="354.5" y1="165.8" x2="391.5" y2="165.8" stroke="#3953A4" stroke-width="1.4"/>
<circle cx="373.0" cy="165.8" r="2.3" fill="none" stroke="#3953A4" stroke-width="1.3"/>
<text x="395.6" y="171.5" font-size="16.1">Load curve</text>
<line x1="354.5" y1="185.7" x2="391.5" y2="185.7" stroke="#6ABD45" stroke-width="1.4"/>
<path d="M370.8 183.5L375.2 187.9M370.8 187.9L375.2 183.5" stroke="#6ABD45" stroke-width="1.3" fill="none"/>
<text x="395.6" y="191.4" font-size="16.1">Textual method</text>
<line x1="354.5" y1="205.7" x2="391.5" y2="205.7" stroke="#5BC5D5" stroke-width="1.4"/>
<path d="M370.0 205.7L376.0 205.7M373.0 202.7L373.0 208.7" stroke="#5BC5D5" stroke-width="1.3" fill="none"/>
<text x="395.6" y="211.4" font-size="16.1">Method 1</text>
<line x1="354.5" y1="225.6" x2="391.5" y2="225.6" stroke="#B9529F" stroke-width="1.4"/>
<circle cx="373.0" cy="225.6" r="2.3" fill="#B9529F" stroke="#B9529F" stroke-width="1"/>
<text x="395.6" y="231.3" font-size="16.1">Method 2</text>
<rect x="52.4" y="5.6" width="460.1" height="233.3" fill="none" stroke="#262626" stroke-width="1.1"/>
<text x="282.8" y="287.6" font-size="20.15" text-anchor="middle">Sampling point</text>
<text x="262.1" y="314.4" font-size="23.45" text-anchor="middle">(a) Daily load prediction curve</text>
<text transform="translate(16,122.3) rotate(-90)" font-size="19.9" text-anchor="middle">Normalized active load</text>
<line x1="98.9" y1="336.8" x2="98.9" y2="583.8" stroke="#cdcdcd" stroke-width="0.7"/>
<line x1="136.4" y1="336.8" x2="136.4" y2="583.8" stroke="#cdcdcd" stroke-width="0.7"/>
<line x1="173.8" y1="336.8" x2="173.8" y2="583.8" stroke="#cdcdcd" stroke-width="0.7"/>
<line x1="211.3" y1="336.8" x2="211.3" y2="583.8" stroke="#cdcdcd" stroke-width="0.7"/>
<line x1="248.7" y1="336.8" x2="248.7" y2="583.8" stroke="#cdcdcd" stroke-width="0.7"/>
<line x1="286.1" y1="336.8" x2="286.1" y2="583.8" stroke="#cdcdcd" stroke-width="0.7"/>
<line x1="323.6" y1="336.8" x2="323.6" y2="583.8" stroke="#cdcdcd" stroke-width="0.7"/>
<line x1="361.0" y1="336.8" x2="361.0" y2="583.8" stroke="#cdcdcd" stroke-width="0.7"/>
<line x1="398.5" y1="336.8" x2="398.5" y2="583.8" stroke="#cdcdcd" stroke-width="0.7"/>
<line x1="435.9" y1="336.8" x2="435.9" y2="583.8" stroke="#cdcdcd" stroke-width="0.7"/>
<line x1="473.4" y1="336.8" x2="473.4" y2="583.8" stroke="#cdcdcd" stroke-width="0.7"/>
<line x1="61.5" y1="534.4" x2="510.8" y2="534.4" stroke="#cdcdcd" stroke-width="0.7"/>
<line x1="61.5" y1="485.0" x2="510.8" y2="485.0" stroke="#cdcdcd" stroke-width="0.7"/>
<line x1="61.5" y1="435.6" x2="510.8" y2="435.6" stroke="#cdcdcd" stroke-width="0.7"/>
<line x1="61.5" y1="386.2" x2="510.8" y2="386.2" stroke="#cdcdcd" stroke-width="0.7"/>
<line x1="70.9" y1="534.4" x2="70.9" y2="558.1" stroke="#3953A4" stroke-width="1.5"/>
<line x1="80.2" y1="534.4" x2="80.2" y2="568.0" stroke="#3953A4" stroke-width="1.5"/>
<line x1="89.6" y1="534.4" x2="89.6" y2="526.2" stroke="#3953A4" stroke-width="1.5"/>
<line x1="98.9" y1="534.4" x2="98.9" y2="554.9" stroke="#3953A4" stroke-width="1.5"/>
<line x1="108.3" y1="534.4" x2="108.3" y2="507.0" stroke="#3953A4" stroke-width="1.5"/>
<line x1="117.7" y1="534.4" x2="117.7" y2="511.7" stroke="#3953A4" stroke-width="1.5"/>
<line x1="127.0" y1="534.4" x2="127.0" y2="546.3" stroke="#3953A4" stroke-width="1.5"/>
<line x1="136.4" y1="534.4" x2="136.4" y2="563.5" stroke="#3953A4" stroke-width="1.5"/>
<line x1="145.7" y1="534.4" x2="145.7" y2="555.9" stroke="#3953A4" stroke-width="1.5"/>
<line x1="155.1" y1="534.4" x2="155.1" y2="517.4" stroke="#3953A4" stroke-width="1.5"/>
<line x1="164.5" y1="534.4" x2="164.5" y2="522.0" stroke="#3953A4" stroke-width="1.5"/>
<line x1="173.8" y1="534.4" x2="173.8" y2="535.4" stroke="#3953A4" stroke-width="1.5"/>
<line x1="183.2" y1="534.4" x2="183.2" y2="537.9" stroke="#3953A4" stroke-width="1.5"/>
<line x1="192.5" y1="534.4" x2="192.5" y2="530.7" stroke="#3953A4" stroke-width="1.5"/>
<line x1="201.9" y1="534.4" x2="201.9" y2="550.5" stroke="#3953A4" stroke-width="1.5"/>
<line x1="211.3" y1="534.4" x2="211.3" y2="527.5" stroke="#3953A4" stroke-width="1.5"/>
<line x1="220.6" y1="534.4" x2="220.6" y2="553.7" stroke="#3953A4" stroke-width="1.5"/>
<line x1="230.0" y1="534.4" x2="230.0" y2="545.8" stroke="#3953A4" stroke-width="1.5"/>
<line x1="239.3" y1="534.4" x2="239.3" y2="532.4" stroke="#3953A4" stroke-width="1.5"/>
<line x1="248.7" y1="534.4" x2="248.7" y2="522.3" stroke="#3953A4" stroke-width="1.5"/>
<line x1="258.1" y1="534.4" x2="258.1" y2="507.7" stroke="#3953A4" stroke-width="1.5"/>
<line x1="267.4" y1="534.4" x2="267.4" y2="552.4" stroke="#3953A4" stroke-width="1.5"/>
<line x1="276.8" y1="534.4" x2="276.8" y2="521.1" stroke="#3953A4" stroke-width="1.5"/>
<line x1="286.1" y1="534.4" x2="286.1" y2="522.3" stroke="#3953A4" stroke-width="1.5"/>
<line x1="295.5" y1="534.4" x2="295.5" y2="563.1" stroke="#3953A4" stroke-width="1.5"/>
<line x1="304.9" y1="534.4" x2="304.9" y2="533.7" stroke="#3953A4" stroke-width="1.5"/>
<line x1="314.2" y1="534.4" x2="314.2" y2="536.9" stroke="#3953A4" stroke-width="1.5"/>
<line x1="323.6" y1="534.4" x2="323.6" y2="523.5" stroke="#3953A4" stroke-width="1.5"/>
<line x1="333.0" y1="534.4" x2="333.0" y2="530.0" stroke="#3953A4" stroke-width="1.5"/>
<line x1="342.3" y1="534.4" x2="342.3" y2="530.0" stroke="#3953A4" stroke-width="1.5"/>
<line x1="351.7" y1="534.4" x2="351.7" y2="546.3" stroke="#3953A4" stroke-width="1.5"/>
<line x1="361.0" y1="534.4" x2="361.0" y2="526.2" stroke="#3953A4" stroke-width="1.5"/>
<line x1="370.4" y1="534.4" x2="370.4" y2="532.7" stroke="#3953A4" stroke-width="1.5"/>
<line x1="379.8" y1="534.4" x2="379.8" y2="522.8" stroke="#3953A4" stroke-width="1.5"/>
<line x1="389.1" y1="534.4" x2="389.1" y2="534.9" stroke="#3953A4" stroke-width="1.5"/>
<line x1="398.5" y1="534.4" x2="398.5" y2="498.6" stroke="#3953A4" stroke-width="1.5"/>
<line x1="407.8" y1="534.4" x2="407.8" y2="507.7" stroke="#3953A4" stroke-width="1.5"/>
<line x1="417.2" y1="534.4" x2="417.2" y2="491.4" stroke="#3953A4" stroke-width="1.5"/>
<line x1="426.6" y1="534.4" x2="426.6" y2="357.8" stroke="#3953A4" stroke-width="1.5"/>
<line x1="435.9" y1="534.4" x2="435.9" y2="529.2" stroke="#3953A4" stroke-width="1.5"/>
<line x1="445.3" y1="534.4" x2="445.3" y2="526.7" stroke="#3953A4" stroke-width="1.5"/>
<line x1="454.6" y1="534.4" x2="454.6" y2="521.6" stroke="#3953A4" stroke-width="1.5"/>
<line x1="464.0" y1="534.4" x2="464.0" y2="544.5" stroke="#3953A4" stroke-width="1.5"/>
<line x1="473.4" y1="534.4" x2="473.4" y2="501.5" stroke="#3953A4" stroke-width="1.5"/>
<line x1="482.7" y1="534.4" x2="482.7" y2="550.5" stroke="#3953A4" stroke-width="1.5"/>
<line x1="492.1" y1="534.4" x2="492.1" y2="539.1" stroke="#3953A4" stroke-width="1.5"/>
<line x1="501.4" y1="534.4" x2="501.4" y2="524.5" stroke="#3953A4" stroke-width="1.5"/>
<line x1="510.8" y1="534.4" x2="510.8" y2="517.6" stroke="#3953A4" stroke-width="1.5"/>
<path d="M67.3 558.1L74.5 558.1M70.9 554.5L70.9 561.7M68.3 555.6L73.4 560.7M68.3 560.7L73.4 555.6" stroke="#3953A4" stroke-width="1.25" fill="none"/><circle cx="70.9" cy="558.1" r="1.3" fill="#3953A4" stroke="#3953A4" stroke-width="0.6"/>
<path d="M76.6 568.0L83.8 568.0M80.2 564.4L80.2 571.6M77.7 565.4L82.8 570.5M77.7 570.5L82.8 565.4" stroke="#3953A4" stroke-width="1.25" fill="none"/><circle cx="80.2" cy="568.0" r="1.3" fill="#3953A4" stroke="#3953A4" stroke-width="0.6"/>
<path d="M86.0 526.2L93.2 526.2M89.6 522.6L89.6 529.8M87.0 523.7L92.1 528.8M87.0 528.8L92.1 523.7" stroke="#3953A4" stroke-width="1.25" fill="none"/><circle cx="89.6" cy="526.2" r="1.3" fill="#3953A4" stroke="#3953A4" stroke-width="0.6"/>
<path d="M95.3 554.9L102.5 554.9M98.9 551.3L98.9 558.5M96.4 552.4L101.5 557.4M96.4 557.4L101.5 552.4" stroke="#3953A4" stroke-width="1.25" fill="none"/><circle cx="98.9" cy="554.9" r="1.3" fill="#3953A4" stroke="#3953A4" stroke-width="0.6"/>
<path d="M104.7 507.0L111.9 507.0M108.3 503.4L108.3 510.6M105.8 504.4L110.8 509.5M105.8 509.5L110.8 504.4" stroke="#3953A4" stroke-width="1.25" fill="none"/><circle cx="108.3" cy="507.0" r="1.3" fill="#3953A4" stroke="#3953A4" stroke-width="0.6"/>
<path d="M114.1 511.7L121.3 511.7M117.7 508.1L117.7 515.3M115.1 509.1L120.2 514.2M115.1 514.2L120.2 509.1" stroke="#3953A4" stroke-width="1.25" fill="none"/><circle cx="117.7" cy="511.7" r="1.3" fill="#3953A4" stroke="#3953A4" stroke-width="0.6"/>
<path d="M123.4 546.3L130.6 546.3M127.0 542.7L127.0 549.9M124.5 543.7L129.6 548.8M124.5 548.8L129.6 543.7" stroke="#3953A4" stroke-width="1.25" fill="none"/><circle cx="127.0" cy="546.3" r="1.3" fill="#3953A4" stroke="#3953A4" stroke-width="0.6"/>
<path d="M132.8 563.5L140.0 563.5M136.4 559.9L136.4 567.1M133.8 561.0L138.9 566.1M133.8 566.1L138.9 561.0" stroke="#3953A4" stroke-width="1.25" fill="none"/><circle cx="136.4" cy="563.5" r="1.3" fill="#3953A4" stroke="#3953A4" stroke-width="0.6"/>
<path d="M142.1 555.9L149.3 555.9M145.7 552.3L145.7 559.5M143.2 553.3L148.3 558.4M143.2 558.4L148.3 553.3" stroke="#3953A4" stroke-width="1.25" fill="none"/><circle cx="145.7" cy="555.9" r="1.3" fill="#3953A4" stroke="#3953A4" stroke-width="0.6"/>
<path d="M151.5 517.4L158.7 517.4M155.1 513.8L155.1 521.0M152.6 514.8L157.6 519.9M152.6 519.9L157.6 514.8" stroke="#3953A4" stroke-width="1.25" fill="none"/><circle cx="155.1" cy="517.4" r="1.3" fill="#3953A4" stroke="#3953A4" stroke-width="0.6"/>
<path d="M160.9 522.0L168.1 522.0M164.5 518.4L164.5 525.6M161.9 519.5L167.0 524.6M161.9 524.6L167.0 519.5" stroke="#3953A4" stroke-width="1.25" fill="none"/><circle cx="164.5" cy="522.0" r="1.3" fill="#3953A4" stroke="#3953A4" stroke-width="0.6"/>
<path d="M170.2 535.4L177.4 535.4M173.8 531.8L173.8 539.0M171.3 532.8L176.4 537.9M171.3 537.9L176.4 532.8" stroke="#3953A4" stroke-width="1.25" fill="none"/><circle cx="173.8" cy="535.4" r="1.3" fill="#3953A4" stroke="#3953A4" stroke-width="0.6"/>
<path d="M179.6 537.9L186.8 537.9M183.2 534.3L183.2 541.5M180.6 535.3L185.7 540.4M180.6 540.4L185.7 535.3" stroke="#3953A4" stroke-width="1.25" fill="none"/><circle cx="183.2" cy="537.9" r="1.3" fill="#3953A4" stroke="#3953A4" stroke-width="0.6"/>
<path d="M188.9 530.7L196.1 530.7M192.5 527.1L192.5 534.3M190.0 528.1L195.1 533.2M190.0 533.2L195.1 528.1" stroke="#3953A4" stroke-width="1.25" fill="none"/><circle cx="192.5" cy="530.7" r="1.3" fill="#3953A4" stroke="#3953A4" stroke-width="0.6"/>
<path d="M198.3 550.5L205.5 550.5M201.9 546.9L201.9 554.1M199.4 547.9L204.5 553.0M199.4 553.0L204.5 547.9" stroke="#3953A4" stroke-width="1.25" fill="none"/><circle cx="201.9" cy="550.5" r="1.3" fill="#3953A4" stroke="#3953A4" stroke-width="0.6"/>
<path d="M207.7 527.5L214.9 527.5M211.3 523.9L211.3 531.1M208.7 524.9L213.8 530.0M208.7 530.0L213.8 524.9" stroke="#3953A4" stroke-width="1.25" fill="none"/><circle cx="211.3" cy="527.5" r="1.3" fill="#3953A4" stroke="#3953A4" stroke-width="0.6"/>
<path d="M217.0 553.7L224.2 553.7M220.6 550.1L220.6 557.3M218.1 551.1L223.2 556.2M218.1 556.2L223.2 551.1" stroke="#3953A4" stroke-width="1.25" fill="none"/><circle cx="220.6" cy="553.7" r="1.3" fill="#3953A4" stroke="#3953A4" stroke-width="0.6"/>
<path d="M226.4 545.8L233.6 545.8M230.0 542.2L230.0 549.4M227.4 543.2L232.5 548.3M227.4 548.3L232.5 543.2" stroke="#3953A4" stroke-width="1.25" fill="none"/><circle cx="230.0" cy="545.8" r="1.3" fill="#3953A4" stroke="#3953A4" stroke-width="0.6"/>
<path d="M235.7 532.4L242.9 532.4M239.3 528.8L239.3 536.0M236.8 529.9L241.9 535.0M236.8 535.0L241.9 529.9" stroke="#3953A4" stroke-width="1.25" fill="none"/><circle cx="239.3" cy="532.4" r="1.3" fill="#3953A4" stroke="#3953A4" stroke-width="0.6"/>
<path d="M245.1 522.3L252.3 522.3M248.7 518.7L248.7 525.9M246.2 519.8L251.3 524.8M246.2 524.8L251.3 519.8" stroke="#3953A4" stroke-width="1.25" fill="none"/><circle cx="248.7" cy="522.3" r="1.3" fill="#3953A4" stroke="#3953A4" stroke-width="0.6"/>
<path d="M254.5 507.7L261.7 507.7M258.1 504.1L258.1 511.3M255.5 505.2L260.6 510.3M255.5 510.3L260.6 505.2" stroke="#3953A4" stroke-width="1.25" fill="none"/><circle cx="258.1" cy="507.7" r="1.3" fill="#3953A4" stroke="#3953A4" stroke-width="0.6"/>
<path d="M263.8 552.4L271.0 552.4M267.4 548.8L267.4 556.0M264.9 549.9L270.0 555.0M264.9 555.0L270.0 549.9" stroke="#3953A4" stroke-width="1.25" fill="none"/><circle cx="267.4" cy="552.4" r="1.3" fill="#3953A4" stroke="#3953A4" stroke-width="0.6"/>
<path d="M273.2 521.1L280.4 521.1M276.8 517.5L276.8 524.7M274.2 518.5L279.3 523.6M274.2 523.6L279.3 518.5" stroke="#3953A4" stroke-width="1.25" fill="none"/><circle cx="276.8" cy="521.1" r="1.3" fill="#3953A4" stroke="#3953A4" stroke-width="0.6"/>
<path d="M282.5 522.3L289.8 522.3M286.1 518.7L286.1 525.9M283.6 519.8L288.7 524.8M283.6 524.8L288.7 519.8" stroke="#3953A4" stroke-width="1.25" fill="none"/><circle cx="286.1" cy="522.3" r="1.3" fill="#3953A4" stroke="#3953A4" stroke-width="0.6"/>
<path d="M291.9 563.1L299.1 563.1M295.5 559.5L295.5 566.7M293.0 560.5L298.1 565.6M293.0 565.6L298.1 560.5" stroke="#3953A4" stroke-width="1.25" fill="none"/><circle cx="295.5" cy="563.1" r="1.3" fill="#3953A4" stroke="#3953A4" stroke-width="0.6"/>
<path d="M301.3 533.7L308.5 533.7M304.9 530.1L304.9 537.3M302.3 531.1L307.4 536.2M302.3 536.2L307.4 531.1" stroke="#3953A4" stroke-width="1.25" fill="none"/><circle cx="304.9" cy="533.7" r="1.3" fill="#3953A4" stroke="#3953A4" stroke-width="0.6"/>
<path d="M310.6 536.9L317.8 536.9M314.2 533.3L314.2 540.5M311.7 534.3L316.8 539.4M311.7 539.4L316.8 534.3" stroke="#3953A4" stroke-width="1.25" fill="none"/><circle cx="314.2" cy="536.9" r="1.3" fill="#3953A4" stroke="#3953A4" stroke-width="0.6"/>
<path d="M320.0 523.5L327.2 523.5M323.6 519.9L323.6 527.1M321.0 521.0L326.1 526.1M321.0 526.1L326.1 521.0" stroke="#3953A4" stroke-width="1.25" fill="none"/><circle cx="323.6" cy="523.5" r="1.3" fill="#3953A4" stroke="#3953A4" stroke-width="0.6"/>
<path d="M329.4 530.0L336.6 530.0M333.0 526.4L333.0 533.6M330.4 527.4L335.5 532.5M330.4 532.5L335.5 527.4" stroke="#3953A4" stroke-width="1.25" fill="none"/><circle cx="333.0" cy="530.0" r="1.3" fill="#3953A4" stroke="#3953A4" stroke-width="0.6"/>
<path d="M338.7 530.0L345.9 530.0M342.3 526.4L342.3 533.6M339.8 527.4L344.9 532.5M339.8 532.5L344.9 527.4" stroke="#3953A4" stroke-width="1.25" fill="none"/><circle cx="342.3" cy="530.0" r="1.3" fill="#3953A4" stroke="#3953A4" stroke-width="0.6"/>
<path d="M348.1 546.3L355.3 546.3M351.7 542.7L351.7 549.9M349.1 543.7L354.2 548.8M349.1 548.8L354.2 543.7" stroke="#3953A4" stroke-width="1.25" fill="none"/><circle cx="351.7" cy="546.3" r="1.3" fill="#3953A4" stroke="#3953A4" stroke-width="0.6"/>
<path d="M357.4 526.2L364.6 526.2M361.0 522.6L361.0 529.8M358.5 523.7L363.6 528.8M358.5 528.8L363.6 523.7" stroke="#3953A4" stroke-width="1.25" fill="none"/><circle cx="361.0" cy="526.2" r="1.3" fill="#3953A4" stroke="#3953A4" stroke-width="0.6"/>
<path d="M366.8 532.7L374.0 532.7M370.4 529.1L370.4 536.3M367.8 530.1L372.9 535.2M367.8 535.2L372.9 530.1" stroke="#3953A4" stroke-width="1.25" fill="none"/><circle cx="370.4" cy="532.7" r="1.3" fill="#3953A4" stroke="#3953A4" stroke-width="0.6"/>
<path d="M376.2 522.8L383.4 522.8M379.8 519.2L379.8 526.4M377.2 520.2L382.3 525.3M377.2 525.3L382.3 520.2" stroke="#3953A4" stroke-width="1.25" fill="none"/><circle cx="379.8" cy="522.8" r="1.3" fill="#3953A4" stroke="#3953A4" stroke-width="0.6"/>
<path d="M385.5 534.9L392.7 534.9M389.1 531.3L389.1 538.5M386.6 532.3L391.7 537.4M386.6 537.4L391.7 532.3" stroke="#3953A4" stroke-width="1.25" fill="none"/><circle cx="389.1" cy="534.9" r="1.3" fill="#3953A4" stroke="#3953A4" stroke-width="0.6"/>
<path d="M394.9 498.6L402.1 498.6M398.5 495.0L398.5 502.2M395.9 496.0L401.0 501.1M395.9 501.1L401.0 496.0" stroke="#3953A4" stroke-width="1.25" fill="none"/><circle cx="398.5" cy="498.6" r="1.3" fill="#3953A4" stroke="#3953A4" stroke-width="0.6"/>
<path d="M404.2 507.7L411.4 507.7M407.8 504.1L407.8 511.3M405.3 505.2L410.4 510.3M405.3 510.3L410.4 505.2" stroke="#3953A4" stroke-width="1.25" fill="none"/><circle cx="407.8" cy="507.7" r="1.3" fill="#3953A4" stroke="#3953A4" stroke-width="0.6"/>
<path d="M413.6 491.4L420.8 491.4M417.2 487.8L417.2 495.0M414.7 488.9L419.7 494.0M414.7 494.0L419.7 488.9" stroke="#3953A4" stroke-width="1.25" fill="none"/><circle cx="417.2" cy="491.4" r="1.3" fill="#3953A4" stroke="#3953A4" stroke-width="0.6"/>
<path d="M423.0 357.8L430.2 357.8M426.6 354.2L426.6 361.4M424.0 355.2L429.1 360.3M424.0 360.3L429.1 355.2" stroke="#3953A4" stroke-width="1.25" fill="none"/><circle cx="426.6" cy="357.8" r="1.3" fill="#3953A4" stroke="#3953A4" stroke-width="0.6"/>
<path d="M432.3 529.2L439.5 529.2M435.9 525.6L435.9 532.8M433.4 526.7L438.5 531.8M433.4 531.8L438.5 526.7" stroke="#3953A4" stroke-width="1.25" fill="none"/><circle cx="435.9" cy="529.2" r="1.3" fill="#3953A4" stroke="#3953A4" stroke-width="0.6"/>
<path d="M441.7 526.7L448.9 526.7M445.3 523.1L445.3 530.3M442.7 524.2L447.8 529.3M442.7 529.3L447.8 524.2" stroke="#3953A4" stroke-width="1.25" fill="none"/><circle cx="445.3" cy="526.7" r="1.3" fill="#3953A4" stroke="#3953A4" stroke-width="0.6"/>
<path d="M451.0 521.6L458.2 521.6M454.6 518.0L454.6 525.2M452.1 519.0L457.2 524.1M452.1 524.1L457.2 519.0" stroke="#3953A4" stroke-width="1.25" fill="none"/><circle cx="454.6" cy="521.6" r="1.3" fill="#3953A4" stroke="#3953A4" stroke-width="0.6"/>
<path d="M460.4 544.5L467.6 544.5M464.0 540.9L464.0 548.1M461.5 542.0L466.5 547.1M461.5 547.1L466.5 542.0" stroke="#3953A4" stroke-width="1.25" fill="none"/><circle cx="464.0" cy="544.5" r="1.3" fill="#3953A4" stroke="#3953A4" stroke-width="0.6"/>
<path d="M469.8 501.5L477.0 501.5M473.4 497.9L473.4 505.1M470.8 499.0L475.9 504.1M470.8 504.1L475.9 499.0" stroke="#3953A4" stroke-width="1.25" fill="none"/><circle cx="473.4" cy="501.5" r="1.3" fill="#3953A4" stroke="#3953A4" stroke-width="0.6"/>
<path d="M479.1 550.5L486.3 550.5M482.7 546.9L482.7 554.1M480.2 547.9L485.3 553.0M480.2 553.0L485.3 547.9" stroke="#3953A4" stroke-width="1.25" fill="none"/><circle cx="482.7" cy="550.5" r="1.3" fill="#3953A4" stroke="#3953A4" stroke-width="0.6"/>
<path d="M488.5 539.1L495.7 539.1M492.1 535.5L492.1 542.7M489.5 536.5L494.6 541.6M489.5 541.6L494.6 536.5" stroke="#3953A4" stroke-width="1.25" fill="none"/><circle cx="492.1" cy="539.1" r="1.3" fill="#3953A4" stroke="#3953A4" stroke-width="0.6"/>
<path d="M497.8 524.5L505.0 524.5M501.4 520.9L501.4 528.1M498.9 522.0L504.0 527.1M498.9 527.1L504.0 522.0" stroke="#3953A4" stroke-width="1.25" fill="none"/><circle cx="501.4" cy="524.5" r="1.3" fill="#3953A4" stroke="#3953A4" stroke-width="0.6"/>
<path d="M507.2 517.6L514.4 517.6M510.8 514.0L510.8 521.2M508.3 515.1L513.3 520.1M508.3 520.1L513.3 515.1" stroke="#3953A4" stroke-width="1.25" fill="none"/><circle cx="510.8" cy="517.6" r="1.3" fill="#3953A4" stroke="#3953A4" stroke-width="0.6"/>
<line x1="70.9" y1="534.4" x2="70.9" y2="545.0" stroke="#B9529F" stroke-width="1.7"/>
<line x1="80.2" y1="534.4" x2="80.2" y2="568.0" stroke="#B9529F" stroke-width="1.7"/>
<line x1="89.6" y1="534.4" x2="89.6" y2="528.7" stroke="#B9529F" stroke-width="1.7"/>
<line x1="98.9" y1="534.4" x2="98.9" y2="554.9" stroke="#B9529F" stroke-width="1.7"/>
<line x1="108.3" y1="534.4" x2="108.3" y2="507.0" stroke="#B9529F" stroke-width="1.7"/>
<line x1="117.7" y1="534.4" x2="117.7" y2="511.7" stroke="#B9529F" stroke-width="1.7"/>
<line x1="127.0" y1="534.4" x2="127.0" y2="546.3" stroke="#B9529F" stroke-width="1.7"/>
<line x1="136.4" y1="534.4" x2="136.4" y2="556.1" stroke="#B9529F" stroke-width="1.7"/>
<line x1="145.7" y1="534.4" x2="145.7" y2="555.9" stroke="#B9529F" stroke-width="1.7"/>
<line x1="155.1" y1="534.4" x2="155.1" y2="517.4" stroke="#B9529F" stroke-width="1.7"/>
<line x1="164.5" y1="534.4" x2="164.5" y2="537.4" stroke="#B9529F" stroke-width="1.7"/>
<line x1="173.8" y1="534.4" x2="173.8" y2="528.0" stroke="#B9529F" stroke-width="1.7"/>
<line x1="183.2" y1="534.4" x2="183.2" y2="546.3" stroke="#B9529F" stroke-width="1.7"/>
<line x1="192.5" y1="534.4" x2="192.5" y2="521.1" stroke="#B9529F" stroke-width="1.7"/>
<line x1="201.9" y1="534.4" x2="201.9" y2="530.7" stroke="#B9529F" stroke-width="1.7"/>
<line x1="211.3" y1="534.4" x2="211.3" y2="528.2" stroke="#B9529F" stroke-width="1.7"/>
<line x1="220.6" y1="534.4" x2="220.6" y2="553.7" stroke="#B9529F" stroke-width="1.7"/>
<line x1="230.0" y1="534.4" x2="230.0" y2="539.8" stroke="#B9529F" stroke-width="1.7"/>
<line x1="239.3" y1="534.4" x2="239.3" y2="527.0" stroke="#B9529F" stroke-width="1.7"/>
<line x1="248.7" y1="534.4" x2="248.7" y2="529.5" stroke="#B9529F" stroke-width="1.7"/>
<line x1="258.1" y1="534.4" x2="258.1" y2="490.9" stroke="#B9529F" stroke-width="1.7"/>
<line x1="267.4" y1="534.4" x2="267.4" y2="580.1" stroke="#B9529F" stroke-width="1.7"/>
<line x1="276.8" y1="534.4" x2="276.8" y2="521.1" stroke="#B9529F" stroke-width="1.7"/>
<line x1="286.1" y1="534.4" x2="286.1" y2="522.3" stroke="#B9529F" stroke-width="1.7"/>
<line x1="295.5" y1="534.4" x2="295.5" y2="577.6" stroke="#B9529F" stroke-width="1.7"/>
<line x1="304.9" y1="534.4" x2="304.9" y2="533.7" stroke="#B9529F" stroke-width="1.7"/>
<line x1="314.2" y1="534.4" x2="314.2" y2="536.4" stroke="#B9529F" stroke-width="1.7"/>
<line x1="323.6" y1="534.4" x2="323.6" y2="529.5" stroke="#B9529F" stroke-width="1.7"/>
<line x1="333.0" y1="534.4" x2="333.0" y2="524.8" stroke="#B9529F" stroke-width="1.7"/>
<line x1="342.3" y1="534.4" x2="342.3" y2="535.4" stroke="#B9529F" stroke-width="1.7"/>
<line x1="351.7" y1="534.4" x2="351.7" y2="521.6" stroke="#B9529F" stroke-width="1.7"/>
<line x1="361.0" y1="534.4" x2="361.0" y2="519.6" stroke="#B9529F" stroke-width="1.7"/>
<line x1="370.4" y1="534.4" x2="370.4" y2="536.1" stroke="#B9529F" stroke-width="1.7"/>
<line x1="379.8" y1="534.4" x2="379.8" y2="525.0" stroke="#B9529F" stroke-width="1.7"/>
<line x1="389.1" y1="534.4" x2="389.1" y2="532.9" stroke="#B9529F" stroke-width="1.7"/>
<line x1="398.5" y1="534.4" x2="398.5" y2="498.6" stroke="#B9529F" stroke-width="1.7"/>
<line x1="407.8" y1="534.4" x2="407.8" y2="507.7" stroke="#B9529F" stroke-width="1.7"/>
<line x1="417.2" y1="534.4" x2="417.2" y2="492.4" stroke="#B9529F" stroke-width="1.7"/>
<line x1="426.6" y1="534.4" x2="426.6" y2="357.8" stroke="#B9529F" stroke-width="1.7"/>
<line x1="435.9" y1="534.4" x2="435.9" y2="511.4" stroke="#B9529F" stroke-width="1.7"/>
<line x1="445.3" y1="534.4" x2="445.3" y2="539.8" stroke="#B9529F" stroke-width="1.7"/>
<line x1="454.6" y1="534.4" x2="454.6" y2="521.6" stroke="#B9529F" stroke-width="1.7"/>
<line x1="464.0" y1="534.4" x2="464.0" y2="525.8" stroke="#B9529F" stroke-width="1.7"/>
<line x1="473.4" y1="534.4" x2="473.4" y2="515.4" stroke="#B9529F" stroke-width="1.7"/>
<line x1="482.7" y1="534.4" x2="482.7" y2="552.2" stroke="#B9529F" stroke-width="1.7"/>
<line x1="492.1" y1="534.4" x2="492.1" y2="536.9" stroke="#B9529F" stroke-width="1.7"/>
<line x1="501.4" y1="534.4" x2="501.4" y2="524.5" stroke="#B9529F" stroke-width="1.7"/>
<line x1="510.8" y1="534.4" x2="510.8" y2="517.6" stroke="#B9529F" stroke-width="1.7"/>
<path d="M67.3 545.0L74.5 545.0M70.9 541.4L70.9 548.6" stroke="#B9529F" stroke-width="1.3" fill="none"/>
<path d="M76.6 568.0L83.8 568.0M80.2 564.4L80.2 571.6" stroke="#B9529F" stroke-width="1.3" fill="none"/>
<path d="M86.0 528.7L93.2 528.7M89.6 525.1L89.6 532.3" stroke="#B9529F" stroke-width="1.3" fill="none"/>
<path d="M95.3 554.9L102.5 554.9M98.9 551.3L98.9 558.5" stroke="#B9529F" stroke-width="1.3" fill="none"/>
<path d="M104.7 507.0L111.9 507.0M108.3 503.4L108.3 510.6" stroke="#B9529F" stroke-width="1.3" fill="none"/>
<path d="M114.1 511.7L121.3 511.7M117.7 508.1L117.7 515.3" stroke="#B9529F" stroke-width="1.3" fill="none"/>
<path d="M123.4 546.3L130.6 546.3M127.0 542.7L127.0 549.9" stroke="#B9529F" stroke-width="1.3" fill="none"/>
<path d="M132.8 556.1L140.0 556.1M136.4 552.5L136.4 559.7" stroke="#B9529F" stroke-width="1.3" fill="none"/>
<path d="M142.1 555.9L149.3 555.9M145.7 552.3L145.7 559.5" stroke="#B9529F" stroke-width="1.3" fill="none"/>
<path d="M151.5 517.4L158.7 517.4M155.1 513.8L155.1 521.0" stroke="#B9529F" stroke-width="1.3" fill="none"/>
<path d="M160.9 537.4L168.1 537.4M164.5 533.8L164.5 541.0" stroke="#B9529F" stroke-width="1.3" fill="none"/>
<path d="M170.2 528.0L177.4 528.0M173.8 524.4L173.8 531.6" stroke="#B9529F" stroke-width="1.3" fill="none"/>
<path d="M179.6 546.3L186.8 546.3M183.2 542.7L183.2 549.9" stroke="#B9529F" stroke-width="1.3" fill="none"/>
<path d="M188.9 521.1L196.1 521.1M192.5 517.5L192.5 524.7" stroke="#B9529F" stroke-width="1.3" fill="none"/>
<path d="M198.3 530.7L205.5 530.7M201.9 527.1L201.9 534.3" stroke="#B9529F" stroke-width="1.3" fill="none"/>
<path d="M207.7 528.2L214.9 528.2M211.3 524.6L211.3 531.8" stroke="#B9529F" stroke-width="1.3" fill="none"/>
<path d="M217.0 553.7L224.2 553.7M220.6 550.1L220.6 557.3" stroke="#B9529F" stroke-width="1.3" fill="none"/>
<path d="M226.4 539.8L233.6 539.8M230.0 536.2L230.0 543.4" stroke="#B9529F" stroke-width="1.3" fill="none"/>
<path d="M235.7 527.0L242.9 527.0M239.3 523.4L239.3 530.6" stroke="#B9529F" stroke-width="1.3" fill="none"/>
<path d="M245.1 529.5L252.3 529.5M248.7 525.9L248.7 533.1" stroke="#B9529F" stroke-width="1.3" fill="none"/>
<path d="M254.5 490.9L261.7 490.9M258.1 487.3L258.1 494.5" stroke="#B9529F" stroke-width="1.3" fill="none"/>
<path d="M263.8 580.1L271.0 580.1M267.4 576.5L267.4 583.7" stroke="#B9529F" stroke-width="1.3" fill="none"/>
<path d="M273.2 521.1L280.4 521.1M276.8 517.5L276.8 524.7" stroke="#B9529F" stroke-width="1.3" fill="none"/>
<path d="M282.5 522.3L289.8 522.3M286.1 518.7L286.1 525.9" stroke="#B9529F" stroke-width="1.3" fill="none"/>
<path d="M291.9 577.6L299.1 577.6M295.5 574.0L295.5 581.2" stroke="#B9529F" stroke-width="1.3" fill="none"/>
<path d="M301.3 533.7L308.5 533.7M304.9 530.1L304.9 537.3" stroke="#B9529F" stroke-width="1.3" fill="none"/>
<path d="M310.6 536.4L317.8 536.4M314.2 532.8L314.2 540.0" stroke="#B9529F" stroke-width="1.3" fill="none"/>
<path d="M320.0 529.5L327.2 529.5M323.6 525.9L323.6 533.1" stroke="#B9529F" stroke-width="1.3" fill="none"/>
<path d="M329.4 524.8L336.6 524.8M333.0 521.2L333.0 528.4" stroke="#B9529F" stroke-width="1.3" fill="none"/>
<path d="M338.7 535.4L345.9 535.4M342.3 531.8L342.3 539.0" stroke="#B9529F" stroke-width="1.3" fill="none"/>
<path d="M348.1 521.6L355.3 521.6M351.7 518.0L351.7 525.2" stroke="#B9529F" stroke-width="1.3" fill="none"/>
<path d="M357.4 519.6L364.6 519.6M361.0 516.0L361.0 523.2" stroke="#B9529F" stroke-width="1.3" fill="none"/>
<path d="M366.8 536.1L374.0 536.1M370.4 532.5L370.4 539.7" stroke="#B9529F" stroke-width="1.3" fill="none"/>
<path d="M376.2 525.0L383.4 525.0M379.8 521.4L379.8 528.6" stroke="#B9529F" stroke-width="1.3" fill="none"/>
<path d="M385.5 532.9L392.7 532.9M389.1 529.3L389.1 536.5" stroke="#B9529F" stroke-width="1.3" fill="none"/>
<path d="M394.9 498.6L402.1 498.6M398.5 495.0L398.5 502.2" stroke="#B9529F" stroke-width="1.3" fill="none"/>
<path d="M404.2 507.7L411.4 507.7M407.8 504.1L407.8 511.3" stroke="#B9529F" stroke-width="1.3" fill="none"/>
<path d="M413.6 492.4L420.8 492.4M417.2 488.8L417.2 496.0" stroke="#B9529F" stroke-width="1.3" fill="none"/>
<path d="M423.0 357.8L430.2 357.8M426.6 354.2L426.6 361.4" stroke="#B9529F" stroke-width="1.3" fill="none"/>
<path d="M432.3 511.4L439.5 511.4M435.9 507.8L435.9 515.0" stroke="#B9529F" stroke-width="1.3" fill="none"/>
<path d="M441.7 539.8L448.9 539.8M445.3 536.2L445.3 543.4" stroke="#B9529F" stroke-width="1.3" fill="none"/>
<path d="M451.0 521.6L458.2 521.6M454.6 518.0L454.6 525.2" stroke="#B9529F" stroke-width="1.3" fill="none"/>
<path d="M460.4 525.8L467.6 525.8M464.0 522.2L464.0 529.4" stroke="#B9529F" stroke-width="1.3" fill="none"/>
<path d="M469.8 515.4L477.0 515.4M473.4 511.8L473.4 519.0" stroke="#B9529F" stroke-width="1.3" fill="none"/>
<path d="M479.1 552.2L486.3 552.2M482.7 548.6L482.7 555.8" stroke="#B9529F" stroke-width="1.3" fill="none"/>
<path d="M488.5 536.9L495.7 536.9M492.1 533.3L492.1 540.5" stroke="#B9529F" stroke-width="1.3" fill="none"/>
<path d="M497.8 524.5L505.0 524.5M501.4 520.9L501.4 528.1" stroke="#B9529F" stroke-width="1.3" fill="none"/>
<path d="M507.2 517.6L514.4 517.6M510.8 514.0L510.8 521.2" stroke="#B9529F" stroke-width="1.3" fill="none"/>
<line x1="70.9" y1="534.4" x2="70.9" y2="530.7" stroke="#6ABD45" stroke-width="1.8"/>
<line x1="80.2" y1="534.4" x2="80.2" y2="568.0" stroke="#6ABD45" stroke-width="1.8"/>
<line x1="89.6" y1="534.4" x2="89.6" y2="528.7" stroke="#6ABD45" stroke-width="1.8"/>
<line x1="98.9" y1="534.4" x2="98.9" y2="554.9" stroke="#6ABD45" stroke-width="1.8"/>
<line x1="108.3" y1="534.4" x2="108.3" y2="507.0" stroke="#6ABD45" stroke-width="1.8"/>
<line x1="117.7" y1="534.4" x2="117.7" y2="511.7" stroke="#6ABD45" stroke-width="1.8"/>
<line x1="127.0" y1="534.4" x2="127.0" y2="546.3" stroke="#6ABD45" stroke-width="1.8"/>
<line x1="136.4" y1="534.4" x2="136.4" y2="556.1" stroke="#6ABD45" stroke-width="1.8"/>
<line x1="145.7" y1="534.4" x2="145.7" y2="555.9" stroke="#6ABD45" stroke-width="1.8"/>
<line x1="155.1" y1="534.4" x2="155.1" y2="521.3" stroke="#6ABD45" stroke-width="1.8"/>
<line x1="164.5" y1="534.4" x2="164.5" y2="530.2" stroke="#6ABD45" stroke-width="1.8"/>
<line x1="173.8" y1="534.4" x2="173.8" y2="513.7" stroke="#6ABD45" stroke-width="1.8"/>
<line x1="183.2" y1="534.4" x2="183.2" y2="561.3" stroke="#6ABD45" stroke-width="1.8"/>
<line x1="192.5" y1="534.4" x2="192.5" y2="540.3" stroke="#6ABD45" stroke-width="1.8"/>
<line x1="201.9" y1="534.4" x2="201.9" y2="545.0" stroke="#6ABD45" stroke-width="1.8"/>
<line x1="211.3" y1="534.4" x2="211.3" y2="529.2" stroke="#6ABD45" stroke-width="1.8"/>
<line x1="220.6" y1="534.4" x2="220.6" y2="553.7" stroke="#6ABD45" stroke-width="1.8"/>
<line x1="230.0" y1="534.4" x2="230.0" y2="537.9" stroke="#6ABD45" stroke-width="1.8"/>
<line x1="239.3" y1="534.4" x2="239.3" y2="526.0" stroke="#6ABD45" stroke-width="1.8"/>
<line x1="248.7" y1="534.4" x2="248.7" y2="530.7" stroke="#6ABD45" stroke-width="1.8"/>
<line x1="258.1" y1="534.4" x2="258.1" y2="543.0" stroke="#6ABD45" stroke-width="1.8"/>
<line x1="267.4" y1="534.4" x2="267.4" y2="530.0" stroke="#6ABD45" stroke-width="1.8"/>
<line x1="276.8" y1="534.4" x2="276.8" y2="521.1" stroke="#6ABD45" stroke-width="1.8"/>
<line x1="286.1" y1="534.4" x2="286.1" y2="522.3" stroke="#6ABD45" stroke-width="1.8"/>
<line x1="295.5" y1="534.4" x2="295.5" y2="548.7" stroke="#6ABD45" stroke-width="1.8"/>
<line x1="304.9" y1="534.4" x2="304.9" y2="533.7" stroke="#6ABD45" stroke-width="1.8"/>
<line x1="314.2" y1="534.4" x2="314.2" y2="536.4" stroke="#6ABD45" stroke-width="1.8"/>
<line x1="323.6" y1="534.4" x2="323.6" y2="529.5" stroke="#6ABD45" stroke-width="1.8"/>
<line x1="333.0" y1="534.4" x2="333.0" y2="537.9" stroke="#6ABD45" stroke-width="1.8"/>
<line x1="342.3" y1="534.4" x2="342.3" y2="530.0" stroke="#6ABD45" stroke-width="1.8"/>
<line x1="351.7" y1="534.4" x2="351.7" y2="528.7" stroke="#6ABD45" stroke-width="1.8"/>
<line x1="361.0" y1="534.4" x2="361.0" y2="519.6" stroke="#6ABD45" stroke-width="1.8"/>
<line x1="370.4" y1="534.4" x2="370.4" y2="532.7" stroke="#6ABD45" stroke-width="1.8"/>
<line x1="379.8" y1="534.4" x2="379.8" y2="525.0" stroke="#6ABD45" stroke-width="1.8"/>
<line x1="389.1" y1="534.4" x2="389.1" y2="532.9" stroke="#6ABD45" stroke-width="1.8"/>
<line x1="398.5" y1="534.4" x2="398.5" y2="498.6" stroke="#6ABD45" stroke-width="1.8"/>
<line x1="407.8" y1="534.4" x2="407.8" y2="507.7" stroke="#6ABD45" stroke-width="1.8"/>
<line x1="417.2" y1="534.4" x2="417.2" y2="492.4" stroke="#6ABD45" stroke-width="1.8"/>
<line x1="426.6" y1="534.4" x2="426.6" y2="357.8" stroke="#6ABD45" stroke-width="1.8"/>
<line x1="435.9" y1="534.4" x2="435.9" y2="511.4" stroke="#6ABD45" stroke-width="1.8"/>
<line x1="445.3" y1="534.4" x2="445.3" y2="525.8" stroke="#6ABD45" stroke-width="1.8"/>
<line x1="454.6" y1="534.4" x2="454.6" y2="521.6" stroke="#6ABD45" stroke-width="1.8"/>
<line x1="464.0" y1="534.4" x2="464.0" y2="528.2" stroke="#6ABD45" stroke-width="1.8"/>
<line x1="473.4" y1="534.4" x2="473.4" y2="515.4" stroke="#6ABD45" stroke-width="1.8"/>
<line x1="482.7" y1="534.4" x2="482.7" y2="552.2" stroke="#6ABD45" stroke-width="1.8"/>
<line x1="492.1" y1="534.4" x2="492.1" y2="543.5" stroke="#6ABD45" stroke-width="1.8"/>
<line x1="501.4" y1="534.4" x2="501.4" y2="524.5" stroke="#6ABD45" stroke-width="1.8"/>
<line x1="510.8" y1="534.4" x2="510.8" y2="517.6" stroke="#6ABD45" stroke-width="1.8"/>
<circle cx="70.9" cy="530.7" r="2.6" fill="none" stroke="#6ABD45" stroke-width="1.4"/>
<circle cx="80.2" cy="568.0" r="2.6" fill="none" stroke="#6ABD45" stroke-width="1.4"/>
<circle cx="89.6" cy="528.7" r="2.6" fill="none" stroke="#6ABD45" stroke-width="1.4"/>
<circle cx="98.9" cy="554.9" r="2.6" fill="none" stroke="#6ABD45" stroke-width="1.4"/>
<circle cx="108.3" cy="507.0" r="2.6" fill="none" stroke="#6ABD45" stroke-width="1.4"/>
<circle cx="117.7" cy="511.7" r="2.6" fill="none" stroke="#6ABD45" stroke-width="1.4"/>
<circle cx="127.0" cy="546.3" r="2.6" fill="none" stroke="#6ABD45" stroke-width="1.4"/>
<circle cx="136.4" cy="556.1" r="2.6" fill="none" stroke="#6ABD45" stroke-width="1.4"/>
<circle cx="145.7" cy="555.9" r="2.6" fill="none" stroke="#6ABD45" stroke-width="1.4"/>
<circle cx="155.1" cy="521.3" r="2.6" fill="none" stroke="#6ABD45" stroke-width="1.4"/>
<circle cx="164.5" cy="530.2" r="2.6" fill="none" stroke="#6ABD45" stroke-width="1.4"/>
<circle cx="173.8" cy="513.7" r="2.6" fill="none" stroke="#6ABD45" stroke-width="1.4"/>
<circle cx="183.2" cy="561.3" r="2.6" fill="none" stroke="#6ABD45" stroke-width="1.4"/>
<circle cx="192.5" cy="540.3" r="2.6" fill="none" stroke="#6ABD45" stroke-width="1.4"/>
<circle cx="201.9" cy="545.0" r="2.6" fill="none" stroke="#6ABD45" stroke-width="1.4"/>
<circle cx="211.3" cy="529.2" r="2.6" fill="none" stroke="#6ABD45" stroke-width="1.4"/>
<circle cx="220.6" cy="553.7" r="2.6" fill="none" stroke="#6ABD45" stroke-width="1.4"/>
<circle cx="230.0" cy="537.9" r="2.6" fill="none" stroke="#6ABD45" stroke-width="1.4"/>
<circle cx="239.3" cy="526.0" r="2.6" fill="none" stroke="#6ABD45" stroke-width="1.4"/>
<circle cx="248.7" cy="530.7" r="2.6" fill="none" stroke="#6ABD45" stroke-width="1.4"/>
<circle cx="258.1" cy="543.0" r="2.6" fill="none" stroke="#6ABD45" stroke-width="1.4"/>
<circle cx="267.4" cy="530.0" r="2.6" fill="none" stroke="#6ABD45" stroke-width="1.4"/>
<circle cx="276.8" cy="521.1" r="2.6" fill="none" stroke="#6ABD45" stroke-width="1.4"/>
<circle cx="286.1" cy="522.3" r="2.6" fill="none" stroke="#6ABD45" stroke-width="1.4"/>
<circle cx="295.5" cy="548.7" r="2.6" fill="none" stroke="#6ABD45" stroke-width="1.4"/>
<circle cx="304.9" cy="533.7" r="2.6" fill="none" stroke="#6ABD45" stroke-width="1.4"/>
<circle cx="314.2" cy="536.4" r="2.6" fill="none" stroke="#6ABD45" stroke-width="1.4"/>
<circle cx="323.6" cy="529.5" r="2.6" fill="none" stroke="#6ABD45" stroke-width="1.4"/>
<circle cx="333.0" cy="537.9" r="2.6" fill="none" stroke="#6ABD45" stroke-width="1.4"/>
<circle cx="342.3" cy="530.0" r="2.6" fill="none" stroke="#6ABD45" stroke-width="1.4"/>
<circle cx="351.7" cy="528.7" r="2.6" fill="none" stroke="#6ABD45" stroke-width="1.4"/>
<circle cx="361.0" cy="519.6" r="2.6" fill="none" stroke="#6ABD45" stroke-width="1.4"/>
<circle cx="370.4" cy="532.7" r="2.6" fill="none" stroke="#6ABD45" stroke-width="1.4"/>
<circle cx="379.8" cy="525.0" r="2.6" fill="none" stroke="#6ABD45" stroke-width="1.4"/>
<circle cx="389.1" cy="532.9" r="2.6" fill="none" stroke="#6ABD45" stroke-width="1.4"/>
<circle cx="398.5" cy="498.6" r="2.6" fill="none" stroke="#6ABD45" stroke-width="1.4"/>
<circle cx="407.8" cy="507.7" r="2.6" fill="none" stroke="#6ABD45" stroke-width="1.4"/>
<circle cx="417.2" cy="492.4" r="2.6" fill="none" stroke="#6ABD45" stroke-width="1.4"/>
<circle cx="426.6" cy="357.8" r="2.6" fill="none" stroke="#6ABD45" stroke-width="1.4"/>
<circle cx="435.9" cy="511.4" r="2.6" fill="none" stroke="#6ABD45" stroke-width="1.4"/>
<circle cx="445.3" cy="525.8" r="2.6" fill="none" stroke="#6ABD45" stroke-width="1.4"/>
<circle cx="454.6" cy="521.6" r="2.6" fill="none" stroke="#6ABD45" stroke-width="1.4"/>
<circle cx="464.0" cy="528.2" r="2.6" fill="none" stroke="#6ABD45" stroke-width="1.4"/>
<circle cx="473.4" cy="515.4" r="2.6" fill="none" stroke="#6ABD45" stroke-width="1.4"/>
<circle cx="482.7" cy="552.2" r="2.6" fill="none" stroke="#6ABD45" stroke-width="1.4"/>
<circle cx="492.1" cy="543.5" r="2.6" fill="none" stroke="#6ABD45" stroke-width="1.4"/>
<circle cx="501.4" cy="524.5" r="2.6" fill="none" stroke="#6ABD45" stroke-width="1.4"/>
<circle cx="510.8" cy="517.6" r="2.6" fill="none" stroke="#6ABD45" stroke-width="1.4"/>
<circle cx="80.2" cy="568.0" r="2.4" fill="#6ABD45" fill-opacity="0.55"/>
<circle cx="98.9" cy="554.9" r="2.4" fill="#6ABD45" fill-opacity="0.55"/>
<circle cx="108.3" cy="507.0" r="2.4" fill="#6ABD45" fill-opacity="0.55"/>
<circle cx="117.7" cy="511.7" r="2.4" fill="#6ABD45" fill-opacity="0.55"/>
<circle cx="127.0" cy="546.3" r="2.4" fill="#6ABD45" fill-opacity="0.55"/>
<circle cx="145.7" cy="555.9" r="2.4" fill="#6ABD45" fill-opacity="0.55"/>
<circle cx="211.3" cy="529.2" r="2.4" fill="#6ABD45" fill-opacity="0.55"/>
<circle cx="220.6" cy="553.7" r="2.4" fill="#6ABD45" fill-opacity="0.55"/>
<circle cx="276.8" cy="521.1" r="2.4" fill="#6ABD45" fill-opacity="0.55"/>
<circle cx="286.1" cy="522.3" r="2.4" fill="#6ABD45" fill-opacity="0.55"/>
<circle cx="304.9" cy="533.7" r="2.4" fill="#6ABD45" fill-opacity="0.55"/>
<circle cx="314.2" cy="536.4" r="2.4" fill="#6ABD45" fill-opacity="0.55"/>
<circle cx="342.3" cy="530.0" r="2.4" fill="#6ABD45" fill-opacity="0.55"/>
<circle cx="370.4" cy="532.7" r="2.4" fill="#6ABD45" fill-opacity="0.55"/>
<circle cx="389.1" cy="532.9" r="2.4" fill="#6ABD45" fill-opacity="0.55"/>
<circle cx="398.5" cy="498.6" r="2.4" fill="#6ABD45" fill-opacity="0.55"/>
<circle cx="407.8" cy="507.7" r="2.4" fill="#6ABD45" fill-opacity="0.55"/>
<circle cx="417.2" cy="492.4" r="2.4" fill="#6ABD45" fill-opacity="0.55"/>
<circle cx="426.6" cy="357.8" r="2.4" fill="#6ABD45" fill-opacity="0.55"/>
<circle cx="445.3" cy="525.8" r="2.4" fill="#6ABD45" fill-opacity="0.55"/>
<circle cx="454.6" cy="521.6" r="2.4" fill="#6ABD45" fill-opacity="0.55"/>
<circle cx="482.7" cy="552.2" r="2.4" fill="#6ABD45" fill-opacity="0.55"/>
<circle cx="501.4" cy="524.5" r="2.4" fill="#6ABD45" fill-opacity="0.55"/>
<circle cx="510.8" cy="517.6" r="2.4" fill="#6ABD45" fill-opacity="0.55"/>
<line x1="61.5" y1="534.4" x2="510.8" y2="534.4" stroke="#444" stroke-width="1.2"/>
<path d="M61.5 583.8v-4.7M61.5 336.8v4.7" stroke="#262626" stroke-width="1"/>
<text x="61.5" y="609.6" font-size="17.7" text-anchor="middle">0</text>
<path d="M98.9 583.8v-4.7M98.9 336.8v4.7" stroke="#262626" stroke-width="1"/>
<text x="98.9" y="609.6" font-size="17.7" text-anchor="middle">4</text>
<path d="M136.4 583.8v-4.7M136.4 336.8v4.7" stroke="#262626" stroke-width="1"/>
<text x="136.4" y="609.6" font-size="17.7" text-anchor="middle">8</text>
<path d="M173.8 583.8v-4.7M173.8 336.8v4.7" stroke="#262626" stroke-width="1"/>
<text x="173.8" y="609.6" font-size="17.7" text-anchor="middle">12</text>
<path d="M211.3 583.8v-4.7M211.3 336.8v4.7" stroke="#262626" stroke-width="1"/>
<text x="211.3" y="609.6" font-size="17.7" text-anchor="middle">16</text>
<path d="M248.7 583.8v-4.7M248.7 336.8v4.7" stroke="#262626" stroke-width="1"/>
<text x="248.7" y="609.6" font-size="17.7" text-anchor="middle">20</text>
<path d="M286.1 583.8v-4.7M286.1 336.8v4.7" stroke="#262626" stroke-width="1"/>
<text x="286.1" y="609.6" font-size="17.7" text-anchor="middle">24</text>
<path d="M323.6 583.8v-4.7M323.6 336.8v4.7" stroke="#262626" stroke-width="1"/>
<text x="323.6" y="609.6" font-size="17.7" text-anchor="middle">28</text>
<path d="M361.0 583.8v-4.7M361.0 336.8v4.7" stroke="#262626" stroke-width="1"/>
<text x="361.0" y="609.6" font-size="17.7" text-anchor="middle">32</text>
<path d="M398.5 583.8v-4.7M398.5 336.8v4.7" stroke="#262626" stroke-width="1"/>
<text x="398.5" y="609.6" font-size="17.7" text-anchor="middle">36</text>
<path d="M435.9 583.8v-4.7M435.9 336.8v4.7" stroke="#262626" stroke-width="1"/>
<text x="435.9" y="609.6" font-size="17.7" text-anchor="middle">40</text>
<path d="M473.4 583.8v-4.7M473.4 336.8v4.7" stroke="#262626" stroke-width="1"/>
<text x="473.4" y="609.6" font-size="17.7" text-anchor="middle">44</text>
<path d="M510.8 583.8v-4.7M510.8 336.8v4.7" stroke="#262626" stroke-width="1"/>
<text x="510.8" y="609.6" font-size="17.7" text-anchor="middle">48</text>
<path d="M61.5 583.8h4.7M510.8 583.8h-4.7" stroke="#262626" stroke-width="1"/>
<text x="53.5" y="589.7" font-size="17.7" text-anchor="end">-0.02</text>
<path d="M61.5 534.4h4.7M510.8 534.4h-4.7" stroke="#262626" stroke-width="1"/>
<text x="53.5" y="540.3" font-size="17.7" text-anchor="end">0</text>
<path d="M61.5 485.0h4.7M510.8 485.0h-4.7" stroke="#262626" stroke-width="1"/>
<text x="53.5" y="490.9" font-size="17.7" text-anchor="end">0.02</text>
<path d="M61.5 435.6h4.7M510.8 435.6h-4.7" stroke="#262626" stroke-width="1"/>
<text x="53.5" y="441.5" font-size="17.7" text-anchor="end">0.04</text>
<path d="M61.5 386.2h4.7M510.8 386.2h-4.7" stroke="#262626" stroke-width="1"/>
<text x="53.5" y="392.1" font-size="17.7" text-anchor="end">0.06</text>
<path d="M61.5 336.8h4.7M510.8 336.8h-4.7" stroke="#262626" stroke-width="1"/>
<text x="53.5" y="342.7" font-size="17.7" text-anchor="end">0.08</text>
<rect x="62" y="337" width="158" height="73" fill="#fff"/>
<line x1="70" y1="352.3" x2="107.5" y2="352.3" stroke="#3953A4" stroke-width="1.3"/>
<text x="112.5" y="357.7" font-size="16">Textual method</text>
<line x1="70" y1="373.8" x2="107.5" y2="373.8" stroke="#B9529F" stroke-width="1.3"/>
<path d="M86.5 371.6L90.9 376.0M86.5 376.0L90.9 371.6" stroke="#B9529F" stroke-width="1.1" fill="none"/>
<text x="112.5" y="379.2" font-size="16">Method 1</text>
<line x1="70" y1="395.3" x2="107.5" y2="395.3" stroke="#6ABD45" stroke-width="1.3"/>
<text x="112.5" y="400.7" font-size="16">Method 2</text>
<rect x="61.5" y="336.8" width="449.3" height="247.0" fill="none" stroke="#262626" stroke-width="1.1"/>
<text x="287.1" y="636.2" font-size="20.15" text-anchor="middle">Sampling point</text>
<text x="261.8" y="668.3" font-size="23.45" text-anchor="middle">(b) Daily load forecasting error</text>
<text transform="translate(16,460.8) rotate(-90)" font-size="20.8" textLength="137.5" lengthAdjust="spacing" text-anchor="middle">Prediction error</text>
</svg>
</body></html>
